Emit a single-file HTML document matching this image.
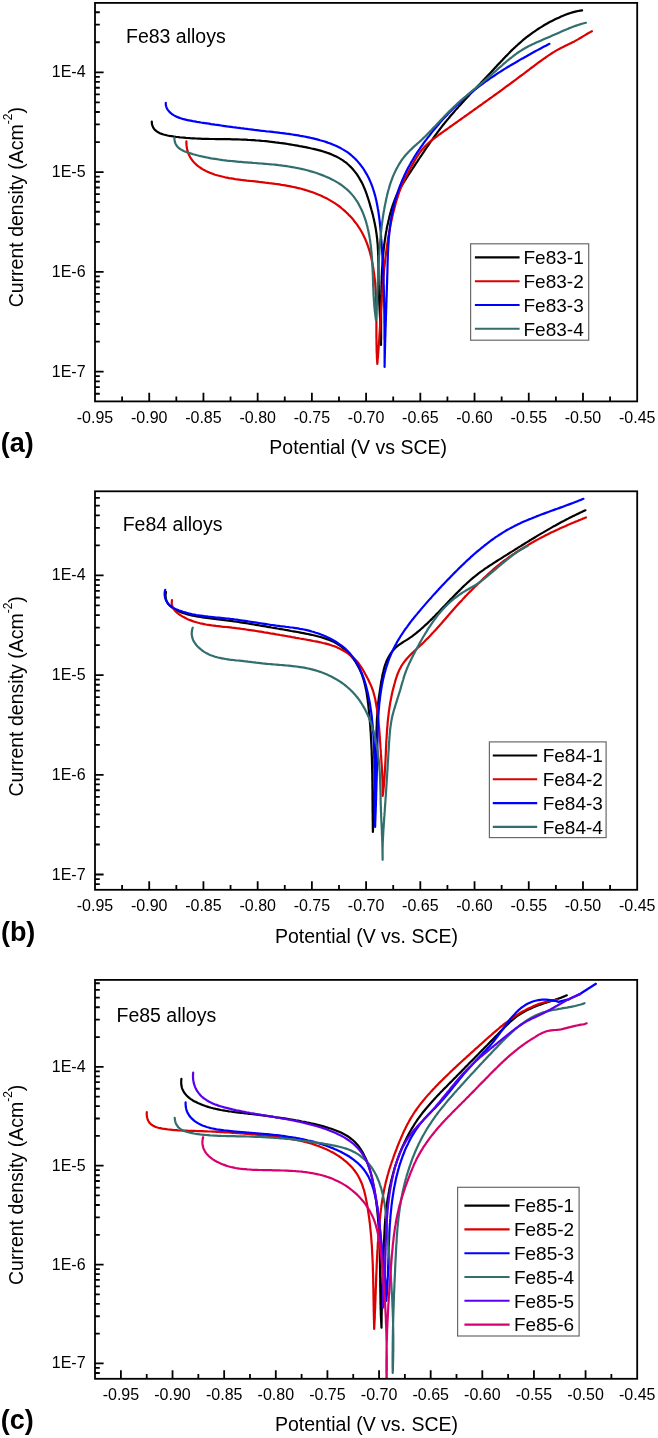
<!DOCTYPE html>
<html><head><meta charset="utf-8"><title>Polarization curves</title>
<style>html,body{margin:0;padding:0;background:#fff;}svg{display:block;}text{font-family:'Liberation Sans', Arial, sans-serif;fill:#000;}</style>
</head><body>
<svg width="658" height="1438" viewBox="0 0 658 1438">
<rect width="658" height="1438" fill="#fff"/>
<clipPath id='ca'><rect x='95.0' y='2.9' width='542.2' height='398.5'/></clipPath>
<path d='M95.0,72.30h8.6M95.0,42.27h4.8M95.0,24.70h4.8M95.0,12.23h4.8M95.0,172.07h8.6M95.0,142.04h4.8M95.0,124.47h4.8M95.0,112.00h4.8M95.0,102.33h4.8M95.0,94.43h4.8M95.0,87.75h4.8M95.0,81.97h4.8M95.0,76.87h4.8M95.0,271.84h8.6M95.0,241.81h4.8M95.0,224.24h4.8M95.0,211.77h4.8M95.0,202.10h4.8M95.0,194.20h4.8M95.0,187.52h4.8M95.0,181.74h4.8M95.0,176.64h4.8M95.0,371.61h8.6M95.0,341.58h4.8M95.0,324.01h4.8M95.0,311.54h4.8M95.0,301.87h4.8M95.0,293.97h4.8M95.0,287.29h4.8M95.0,281.51h4.8M95.0,276.41h4.8M95.0,393.74h4.8M95.0,387.06h4.8M95.0,381.28h4.8M95.0,376.18h4.8M122.11,401.4v-4.8M149.22,401.4v-8.6M176.33,401.4v-4.8M203.44,401.4v-8.6M230.55,401.4v-4.8M257.66,401.4v-8.6M284.77,401.4v-4.8M311.88,401.4v-8.6M338.99,401.4v-4.8M366.10,401.4v-8.6M393.21,401.4v-4.8M420.32,401.4v-8.6M447.43,401.4v-4.8M474.54,401.4v-8.6M501.65,401.4v-4.8M528.76,401.4v-8.6M555.87,401.4v-4.8M582.98,401.4v-8.6M610.09,401.4v-4.8' stroke='#000' stroke-width='1.8' fill='none'/>
<g clip-path='url(#ca)' fill='none' stroke-width='2.2' stroke-linejoin='round' stroke-linecap='round'>
<path d='M151.8,121.6 L151.9,123.8 L152.4,125.7 L153.1,127.4 L154.1,128.9 L155.3,130.2 L156.7,131.4 L158.2,132.3 L159.9,133.2 L161.7,133.9 L163.5,134.5 L165.5,135.0 L167.5,135.5 L169.6,135.9 L171.6,136.2 L173.7,136.5 L175.8,136.8 L177.8,137.0 L179.9,137.3 L181.9,137.5 L184.0,137.7 L186.0,137.9 L188.0,138.0 L190.1,138.2 L192.1,138.3 L194.1,138.4 L196.1,138.5 L198.1,138.6 L200.1,138.7 L202.2,138.8 L204.2,138.8 L206.2,138.9 L208.2,138.9 L210.1,139.0 L212.1,139.0 L214.1,139.0 L216.1,139.1 L218.1,139.1 L220.1,139.1 L222.1,139.1 L224.1,139.2 L226.0,139.2 L228.0,139.2 L230.0,139.2 L232.0,139.3 L234.0,139.3 L235.9,139.4 L237.9,139.4 L239.9,139.5 L241.9,139.6 L243.9,139.7 L245.8,139.7 L247.8,139.9 L249.8,140.0 L251.8,140.1 L253.8,140.2 L255.7,140.4 L257.7,140.5 L259.7,140.7 L261.7,140.9 L263.7,141.0 L265.7,141.2 L267.7,141.4 L269.6,141.7 L271.6,141.9 L273.6,142.1 L275.6,142.4 L277.6,142.6 L279.6,142.9 L281.6,143.1 L283.6,143.4 L285.6,143.7 L287.6,144.0 L289.5,144.3 L291.5,144.7 L293.5,145.0 L295.5,145.3 L297.5,145.7 L299.5,146.1 L301.5,146.4 L303.5,146.8 L305.5,147.2 L307.5,147.6 L309.5,148.0 L311.5,148.5 L313.5,148.9 L315.5,149.4 L317.5,149.9 L319.4,150.4 L321.4,150.9 L323.3,151.5 L325.2,152.1 L327.1,152.7 L329.0,153.4 L330.8,154.1 L332.7,154.9 L334.4,155.7 L336.2,156.5 L337.9,157.4 L339.6,158.4 L341.3,159.4 L342.9,160.4 L344.5,161.6 L346.1,162.7 L347.6,164.0 L349.0,165.3 L350.4,166.6 L351.8,168.0 L353.1,169.5 L354.4,171.1 L355.6,172.6 L356.8,174.2 L357.9,175.9 L359.0,177.6 L360.0,179.4 L361.0,181.1 L362.0,182.9 L362.9,184.8 L363.7,186.6 L364.5,188.5 L365.3,190.4 L366.0,192.3 L366.7,194.2 L367.3,196.2 L368.0,198.1 L368.6,200.0 L369.2,202.0 L369.8,203.9 L370.3,205.9 L370.9,207.8 L371.4,209.7 L372.0,211.7 L372.5,213.6 L373.0,215.5 L373.4,217.5 L373.9,219.4 L374.3,221.4 L374.7,223.3 L375.1,225.3 L375.5,227.2 L375.8,229.2 L376.1,231.1 L376.4,233.1 L376.7,235.1 L376.9,237.0 L377.2,239.0 L377.3,241.0 L377.5,242.9 L377.7,244.9 L377.8,246.9 L377.9,248.9 L378.0,250.9 L378.1,252.9 L378.2,254.9 L378.3,256.8 L378.3,258.8 L378.3,260.8 L378.4,262.8 L378.4,264.8 L378.4,266.8 L378.5,268.8 L378.5,270.9 L378.5,272.9 L378.5,274.9 L378.5,276.9 L378.6,278.9 L378.6,280.9 L378.6,282.9 L378.7,284.9 L378.7,286.9 L378.8,288.9 L378.8,291.0 L378.9,293.0 L379.0,295.0 L379.1,297.0 L379.2,299.0 L379.2,301.0 L379.3,303.0 L379.4,305.0 L379.5,307.1 L379.6,309.1 L379.7,311.1 L379.8,313.1 L379.9,315.1 L380.0,317.1 L380.1,319.1 L380.2,321.1 L380.3,323.1 L380.4,325.1 L380.5,327.1 L380.5,329.1 L380.6,331.1 L380.7,333.1 L380.8,335.1 L380.8,337.1 L380.9,339.1 L380.9,341.0 L381.0,343.0 L381.0,345.0 L381.0,343.0 L381.0,341.0 L381.1,339.1 L381.1,337.1 L381.1,335.1 L381.1,333.1 L381.1,331.1 L381.1,329.1 L381.1,327.1 L381.1,325.1 L381.1,323.1 L381.1,321.1 L381.1,319.1 L381.1,317.1 L381.1,315.1 L381.1,313.0 L381.1,311.0 L381.1,309.0 L381.1,307.0 L381.2,305.0 L381.2,302.9 L381.2,300.9 L381.2,298.9 L381.2,296.9 L381.3,294.9 L381.3,292.8 L381.3,290.8 L381.4,288.8 L381.4,286.8 L381.5,284.7 L381.5,282.7 L381.6,280.7 L381.7,278.7 L381.7,276.7 L381.8,274.6 L381.9,272.6 L382.0,270.6 L382.1,268.6 L382.3,266.6 L382.4,264.6 L382.5,262.5 L382.7,260.5 L382.8,258.5 L383.0,256.5 L383.2,254.5 L383.4,252.5 L383.6,250.5 L383.8,248.5 L384.0,246.5 L384.3,244.5 L384.5,242.6 L384.8,240.6 L385.1,238.6 L385.4,236.6 L385.7,234.7 L386.0,232.7 L386.4,230.7 L386.7,228.8 L387.1,226.8 L387.5,224.9 L388.0,222.9 L388.4,221.0 L388.9,219.0 L389.3,217.1 L389.8,215.2 L390.3,213.2 L390.9,211.3 L391.4,209.4 L392.0,207.5 L392.6,205.6 L393.3,203.7 L394.0,201.9 L394.7,200.0 L395.4,198.1 L396.2,196.3 L397.0,194.5 L397.9,192.7 L398.8,190.9 L399.8,189.1 L400.7,187.3 L401.8,185.5 L402.8,183.8 L403.9,182.1 L405.0,180.3 L406.1,178.6 L407.2,176.9 L408.3,175.2 L409.4,173.5 L410.5,171.8 L411.6,170.1 L412.7,168.5 L413.8,166.8 L414.9,165.1 L416.0,163.4 L417.1,161.8 L418.2,160.1 L419.3,158.5 L420.4,156.8 L421.6,155.2 L422.7,153.5 L423.8,151.8 L424.9,150.2 L426.0,148.5 L427.1,146.9 L428.3,145.3 L429.4,143.6 L430.5,142.0 L431.7,140.3 L432.9,138.7 L434.0,137.1 L435.2,135.4 L436.4,133.8 L437.6,132.2 L438.8,130.6 L440.0,129.0 L441.2,127.4 L442.4,125.8 L443.7,124.3 L444.9,122.7 L446.2,121.1 L447.5,119.6 L448.8,118.1 L450.0,116.5 L451.3,115.0 L452.7,113.5 L454.0,112.0 L455.3,110.4 L456.6,108.9 L458.0,107.4 L459.3,105.9 L460.7,104.4 L462.0,103.0 L463.4,101.5 L464.7,100.0 L466.1,98.5 L467.5,97.0 L468.9,95.6 L470.2,94.1 L471.6,92.6 L473.0,91.2 L474.4,89.7 L475.8,88.3 L477.2,86.8 L478.6,85.3 L479.9,83.9 L481.3,82.4 L482.7,81.0 L484.1,79.5 L485.5,78.0 L486.9,76.6 L488.3,75.1 L489.6,73.7 L491.0,72.2 L492.4,70.7 L493.7,69.3 L495.1,67.8 L496.5,66.3 L497.8,64.8 L499.2,63.4 L500.6,61.9 L502.0,60.5 L503.3,59.0 L504.7,57.6 L506.1,56.1 L507.5,54.7 L508.9,53.3 L510.3,51.8 L511.7,50.4 L513.1,49.0 L514.6,47.7 L516.0,46.3 L517.5,45.0 L519.0,43.6 L520.5,42.3 L522.0,41.0 L523.5,39.7 L525.1,38.4 L526.6,37.2 L528.2,36.0 L529.8,34.8 L531.4,33.6 L533.1,32.4 L534.7,31.3 L536.4,30.1 L538.1,29.0 L539.8,27.9 L541.5,26.9 L543.2,25.8 L544.9,24.8 L546.7,23.8 L548.4,22.8 L550.2,21.8 L552.0,20.9 L553.8,20.0 L555.6,19.1 L557.5,18.2 L559.3,17.4 L561.1,16.5 L563.0,15.8 L564.9,15.0 L566.7,14.3 L568.6,13.6 L570.5,13.0 L572.4,12.4 L574.4,11.9 L576.3,11.4 L578.2,11.0 L580.2,10.6 L582.1,10.3' stroke='#000000'/>
<path d='M186.4,141.4 L186.4,143.7 L186.6,145.9 L186.9,148.1 L187.3,150.1 L187.8,152.0 L188.5,153.9 L189.3,155.6 L190.2,157.3 L191.3,158.9 L192.4,160.5 L193.6,161.9 L194.9,163.3 L196.3,164.6 L197.7,165.8 L199.2,166.9 L200.8,168.0 L202.4,169.1 L204.1,170.0 L205.8,170.9 L207.6,171.8 L209.4,172.6 L211.3,173.3 L213.2,174.0 L215.1,174.7 L217.1,175.3 L219.0,175.8 L221.0,176.3 L223.0,176.8 L225.0,177.3 L227.0,177.7 L229.0,178.1 L231.0,178.4 L233.0,178.7 L235.0,179.1 L237.0,179.3 L239.0,179.6 L241.0,179.9 L243.0,180.1 L245.0,180.3 L247.0,180.6 L249.1,180.8 L251.1,181.0 L253.1,181.2 L255.1,181.4 L257.1,181.6 L259.1,181.9 L261.2,182.1 L263.2,182.3 L265.2,182.6 L267.3,182.8 L269.3,183.1 L271.3,183.3 L273.3,183.6 L275.4,183.9 L277.4,184.1 L279.4,184.4 L281.4,184.8 L283.4,185.1 L285.4,185.4 L287.4,185.8 L289.4,186.2 L291.4,186.6 L293.4,187.0 L295.4,187.4 L297.3,187.9 L299.3,188.3 L301.2,188.8 L303.2,189.4 L305.1,189.9 L307.0,190.5 L308.9,191.1 L310.8,191.7 L312.6,192.3 L314.5,193.0 L316.3,193.7 L318.2,194.5 L320.0,195.2 L321.8,196.0 L323.6,196.9 L325.3,197.7 L327.1,198.6 L328.8,199.6 L330.5,200.6 L332.2,201.6 L333.9,202.6 L335.5,203.7 L337.2,204.9 L338.8,206.0 L340.4,207.2 L341.9,208.5 L343.5,209.8 L345.0,211.1 L346.4,212.5 L347.9,213.9 L349.3,215.4 L350.7,216.8 L352.1,218.3 L353.4,219.9 L354.6,221.5 L355.9,223.1 L357.1,224.7 L358.2,226.4 L359.4,228.1 L360.4,229.8 L361.4,231.5 L362.4,233.3 L363.3,235.1 L364.2,236.9 L365.1,238.7 L365.8,240.5 L366.6,242.4 L367.3,244.3 L368.0,246.2 L368.6,248.1 L369.2,250.0 L369.8,251.9 L370.3,253.9 L370.8,255.8 L371.3,257.8 L371.7,259.7 L372.1,261.7 L372.5,263.7 L372.8,265.7 L373.2,267.6 L373.5,269.6 L373.8,271.6 L374.1,273.6 L374.3,275.6 L374.6,277.6 L374.8,279.6 L375.0,281.6 L375.2,283.6 L375.3,285.6 L375.5,287.6 L375.6,289.6 L375.7,291.7 L375.8,293.7 L375.9,295.7 L376.0,297.7 L376.1,299.7 L376.1,301.7 L376.2,303.8 L376.2,305.8 L376.3,307.8 L376.3,309.8 L376.3,311.8 L376.4,313.8 L376.4,315.9 L376.4,317.9 L376.4,319.9 L376.4,321.9 L376.4,323.9 L376.4,326.0 L376.4,328.0 L376.4,330.0 L376.4,332.0 L376.4,334.0 L376.4,336.0 L376.4,338.0 L376.5,340.1 L376.5,342.1 L376.5,344.1 L376.6,346.1 L376.6,348.1 L376.6,350.1 L376.7,352.1 L376.8,354.1 L376.9,356.1 L376.9,358.0 L377.1,360.0 L377.2,362.0 L377.3,364.0 L377.5,362.0 L377.6,360.0 L377.8,358.1 L378.0,356.1 L378.1,354.1 L378.3,352.1 L378.4,350.1 L378.6,348.1 L378.7,346.1 L378.9,344.1 L379.0,342.1 L379.2,340.1 L379.3,338.1 L379.4,336.1 L379.5,334.1 L379.7,332.1 L379.8,330.1 L379.9,328.1 L380.1,326.1 L380.2,324.1 L380.3,322.1 L380.4,320.0 L380.6,318.0 L380.7,316.0 L380.8,314.0 L380.9,312.0 L381.1,310.0 L381.2,308.0 L381.3,306.0 L381.4,303.9 L381.6,301.9 L381.7,299.9 L381.8,297.9 L382.0,295.9 L382.1,293.9 L382.3,291.9 L382.4,289.9 L382.6,287.8 L382.7,285.8 L382.9,283.8 L383.1,281.8 L383.2,279.8 L383.4,277.8 L383.6,275.8 L383.8,273.8 L383.9,271.8 L384.1,269.8 L384.3,267.8 L384.6,265.8 L384.8,263.8 L385.0,261.8 L385.2,259.8 L385.4,257.8 L385.7,255.8 L385.9,253.8 L386.2,251.8 L386.5,249.8 L386.7,247.8 L387.0,245.8 L387.3,243.8 L387.6,241.9 L387.9,239.9 L388.2,237.9 L388.5,235.9 L388.9,234.0 L389.2,232.0 L389.6,230.0 L390.0,228.1 L390.3,226.1 L390.7,224.1 L391.1,222.2 L391.5,220.2 L392.0,218.3 L392.4,216.3 L392.8,214.4 L393.3,212.5 L393.8,210.5 L394.3,208.6 L394.8,206.7 L395.3,204.7 L395.8,202.8 L396.4,200.9 L397.0,199.0 L397.6,197.1 L398.2,195.2 L398.8,193.3 L399.5,191.4 L400.2,189.5 L401.0,187.6 L401.7,185.8 L402.6,183.9 L403.4,182.0 L404.3,180.2 L405.1,178.3 L406.0,176.5 L407.0,174.7 L407.9,172.9 L408.9,171.1 L409.8,169.3 L410.8,167.5 L411.8,165.7 L412.8,163.9 L413.8,162.1 L414.8,160.4 L415.8,158.7 L416.9,157.0 L418.0,155.3 L419.1,153.7 L420.2,152.1 L421.4,150.5 L422.7,149.0 L424.0,147.5 L425.3,146.1 L426.7,144.7 L428.2,143.3 L429.6,142.0 L431.2,140.7 L432.7,139.5 L434.3,138.3 L435.9,137.1 L437.5,135.9 L439.1,134.7 L440.8,133.5 L442.4,132.4 L444.1,131.2 L445.7,130.0 L447.4,128.8 L449.0,127.7 L450.6,126.5 L452.3,125.3 L453.9,124.2 L455.6,123.0 L457.2,121.8 L458.8,120.7 L460.5,119.5 L462.1,118.3 L463.8,117.2 L465.4,116.0 L467.1,114.8 L468.7,113.7 L470.3,112.5 L472.0,111.3 L473.6,110.2 L475.2,109.0 L476.9,107.9 L478.5,106.7 L480.2,105.5 L481.8,104.4 L483.4,103.2 L485.0,102.0 L486.7,100.8 L488.3,99.7 L489.9,98.5 L491.6,97.3 L493.2,96.2 L494.8,95.0 L496.4,93.8 L498.1,92.6 L499.7,91.5 L501.3,90.3 L502.9,89.1 L504.5,87.9 L506.1,86.7 L507.8,85.5 L509.4,84.4 L511.0,83.2 L512.6,82.0 L514.2,80.8 L515.8,79.6 L517.4,78.4 L519.0,77.2 L520.6,76.0 L522.2,74.8 L523.9,73.6 L525.5,72.4 L527.1,71.2 L528.7,70.0 L530.3,68.7 L531.9,67.5 L533.5,66.3 L535.1,65.1 L536.7,63.9 L538.3,62.7 L540.0,61.5 L541.6,60.3 L543.2,59.1 L544.9,58.0 L546.5,56.8 L548.2,55.7 L549.8,54.6 L551.5,53.5 L553.2,52.4 L554.9,51.4 L556.6,50.4 L558.3,49.4 L560.1,48.5 L561.9,47.6 L563.6,46.7 L565.4,45.8 L567.2,44.9 L569.0,44.1 L570.8,43.2 L572.6,42.3 L574.4,41.4 L576.2,40.4 L578.0,39.4 L579.8,38.3 L581.6,37.2 L583.4,36.1 L585.1,35.1 L586.9,34.0 L588.6,33.0 L590.2,32.1 L591.9,31.2' stroke='#dc0000'/>
<path d='M165.8,102.8 L165.8,104.9 L166.3,106.8 L167.0,108.6 L168.0,110.1 L169.2,111.6 L170.6,112.9 L172.0,114.1 L173.6,115.1 L175.3,116.1 L177.0,116.9 L178.8,117.6 L180.7,118.3 L182.6,118.9 L184.6,119.4 L186.6,119.9 L188.6,120.3 L190.7,120.7 L192.7,121.1 L194.8,121.4 L196.8,121.8 L198.9,122.1 L200.9,122.5 L203.0,122.8 L205.0,123.1 L207.0,123.4 L209.0,123.7 L211.0,124.1 L213.0,124.4 L215.0,124.7 L217.0,124.9 L219.0,125.2 L221.0,125.5 L223.0,125.8 L225.0,126.1 L226.9,126.4 L228.9,126.6 L230.9,126.9 L232.8,127.2 L234.8,127.4 L236.8,127.7 L238.7,127.9 L240.7,128.2 L242.7,128.4 L244.6,128.7 L246.6,128.9 L248.5,129.2 L250.5,129.4 L252.5,129.6 L254.4,129.9 L256.4,130.1 L258.4,130.3 L260.4,130.6 L262.3,130.8 L264.3,131.0 L266.3,131.3 L268.3,131.5 L270.3,131.7 L272.3,131.9 L274.3,132.2 L276.3,132.4 L278.3,132.6 L280.3,132.9 L282.3,133.1 L284.3,133.4 L286.3,133.7 L288.3,133.9 L290.3,134.2 L292.3,134.5 L294.3,134.8 L296.3,135.1 L298.3,135.4 L300.3,135.8 L302.2,136.1 L304.2,136.5 L306.2,136.9 L308.2,137.3 L310.2,137.7 L312.1,138.2 L314.1,138.6 L316.1,139.1 L318.0,139.6 L320.0,140.2 L321.9,140.7 L323.9,141.3 L325.8,141.9 L327.7,142.6 L329.6,143.2 L331.5,143.9 L333.3,144.7 L335.2,145.5 L337.0,146.3 L338.8,147.2 L340.6,148.1 L342.3,149.1 L344.1,150.1 L345.7,151.1 L347.4,152.2 L349.0,153.4 L350.6,154.7 L352.1,156.0 L353.6,157.3 L355.1,158.7 L356.5,160.1 L357.8,161.6 L359.1,163.1 L360.4,164.7 L361.6,166.3 L362.8,167.9 L363.9,169.5 L364.9,171.2 L365.9,172.9 L366.9,174.6 L367.8,176.3 L368.7,178.0 L369.5,179.8 L370.3,181.6 L371.1,183.4 L371.8,185.3 L372.5,187.1 L373.1,189.0 L373.7,190.9 L374.3,192.8 L374.8,194.7 L375.4,196.6 L375.8,198.6 L376.3,200.5 L376.7,202.5 L377.1,204.5 L377.5,206.5 L377.8,208.5 L378.2,210.5 L378.5,212.5 L378.8,214.5 L379.1,216.5 L379.3,218.6 L379.6,220.6 L379.8,222.6 L380.0,224.7 L380.2,226.7 L380.4,228.7 L380.6,230.8 L380.8,232.8 L380.9,234.8 L381.1,236.9 L381.2,238.9 L381.4,240.9 L381.6,242.9 L381.7,245.0 L381.8,247.0 L382.0,249.0 L382.1,251.0 L382.2,253.0 L382.3,255.0 L382.5,257.0 L382.6,259.0 L382.7,261.0 L382.8,263.0 L382.9,265.0 L383.0,267.0 L383.1,269.0 L383.2,271.0 L383.3,273.0 L383.3,274.9 L383.4,276.9 L383.5,278.9 L383.6,280.9 L383.6,282.9 L383.7,284.9 L383.8,286.8 L383.8,288.8 L383.9,290.8 L383.9,292.8 L384.0,294.8 L384.0,296.7 L384.1,298.7 L384.1,300.7 L384.2,302.7 L384.2,304.7 L384.2,306.7 L384.3,308.6 L384.3,310.6 L384.3,312.6 L384.4,314.6 L384.4,316.6 L384.4,318.6 L384.4,320.6 L384.4,322.6 L384.5,324.6 L384.5,326.5 L384.5,328.5 L384.5,330.5 L384.5,332.5 L384.5,334.5 L384.5,336.6 L384.5,338.6 L384.6,340.6 L384.6,342.6 L384.6,344.6 L384.6,346.6 L384.6,348.6 L384.6,350.7 L384.6,352.7 L384.6,354.7 L384.6,356.8 L384.6,358.8 L384.6,360.8 L384.6,362.9 L384.6,364.9 L384.6,367.0 L384.6,365.0 L384.7,363.1 L384.7,361.1 L384.7,359.1 L384.8,357.1 L384.8,355.1 L384.9,353.2 L384.9,351.2 L385.0,349.2 L385.0,347.2 L385.1,345.2 L385.1,343.2 L385.2,341.2 L385.2,339.2 L385.3,337.2 L385.4,335.2 L385.4,333.2 L385.5,331.2 L385.5,329.1 L385.6,327.1 L385.7,325.1 L385.7,323.1 L385.8,321.1 L385.9,319.1 L385.9,317.0 L386.0,315.0 L386.1,313.0 L386.1,311.0 L386.2,309.0 L386.3,306.9 L386.3,304.9 L386.4,302.9 L386.5,300.8 L386.5,298.8 L386.6,296.8 L386.7,294.8 L386.7,292.7 L386.8,290.7 L386.9,288.7 L386.9,286.7 L387.0,284.6 L387.1,282.6 L387.1,280.6 L387.2,278.6 L387.2,276.5 L387.3,274.5 L387.4,272.5 L387.4,270.5 L387.5,268.4 L387.5,266.4 L387.6,264.4 L387.6,262.4 L387.7,260.4 L387.8,258.4 L387.8,256.3 L387.9,254.3 L388.0,252.3 L388.1,250.3 L388.2,248.3 L388.3,246.3 L388.4,244.3 L388.6,242.3 L388.7,240.3 L388.8,238.3 L389.0,236.3 L389.2,234.3 L389.4,232.4 L389.6,230.4 L389.8,228.4 L390.1,226.4 L390.3,224.4 L390.6,222.5 L390.9,220.5 L391.2,218.5 L391.5,216.6 L391.9,214.6 L392.3,212.7 L392.7,210.7 L393.1,208.8 L393.5,206.8 L394.0,204.9 L394.5,203.0 L395.0,201.0 L395.6,199.1 L396.1,197.2 L396.7,195.3 L397.3,193.4 L398.0,191.5 L398.6,189.6 L399.3,187.7 L400.0,185.8 L400.8,184.0 L401.5,182.1 L402.3,180.2 L403.1,178.4 L403.9,176.6 L404.7,174.7 L405.6,172.9 L406.5,171.1 L407.4,169.3 L408.3,167.5 L409.3,165.8 L410.3,164.0 L411.2,162.2 L412.3,160.5 L413.3,158.8 L414.3,157.0 L415.4,155.3 L416.5,153.6 L417.6,151.9 L418.7,150.3 L419.9,148.6 L421.0,146.9 L422.2,145.3 L423.3,143.6 L424.5,142.0 L425.7,140.4 L426.9,138.8 L428.1,137.2 L429.4,135.6 L430.6,134.0 L431.8,132.4 L433.1,130.8 L434.4,129.3 L435.7,127.7 L437.0,126.2 L438.3,124.7 L439.6,123.1 L440.9,121.6 L442.2,120.1 L443.6,118.6 L444.9,117.2 L446.3,115.7 L447.7,114.2 L449.1,112.8 L450.4,111.4 L451.9,109.9 L453.3,108.5 L454.7,107.1 L456.2,105.8 L457.6,104.4 L459.1,103.0 L460.5,101.7 L462.0,100.3 L463.5,99.0 L465.0,97.7 L466.5,96.4 L468.1,95.1 L469.6,93.8 L471.2,92.5 L472.7,91.3 L474.3,90.0 L475.9,88.8 L477.5,87.6 L479.1,86.4 L480.7,85.2 L482.3,84.0 L483.9,82.8 L485.5,81.6 L487.2,80.5 L488.8,79.3 L490.5,78.2 L492.1,77.1 L493.8,76.0 L495.5,74.8 L497.2,73.7 L498.8,72.6 L500.5,71.6 L502.2,70.5 L503.9,69.4 L505.6,68.4 L507.4,67.3 L509.1,66.3 L510.8,65.2 L512.5,64.2 L514.3,63.2 L516.0,62.2 L517.7,61.2 L519.5,60.1 L521.2,59.1 L523.0,58.2 L524.7,57.2 L526.5,56.2 L528.2,55.2 L530.0,54.2 L531.7,53.3 L533.5,52.3 L535.3,51.3 L537.0,50.4 L538.8,49.4 L540.6,48.5 L542.3,47.5 L544.1,46.6 L545.9,45.7 L547.6,44.7 L549.4,43.8' stroke='#0000ff'/>
<path d='M174.4,137.6 L174.5,139.9 L174.9,141.9 L175.5,143.7 L176.4,145.3 L177.5,146.7 L178.8,148.0 L180.3,149.1 L181.9,150.0 L183.7,150.9 L185.5,151.7 L187.4,152.4 L189.3,153.0 L191.3,153.6 L193.2,154.2 L195.2,154.7 L197.1,155.3 L199.1,155.8 L201.1,156.2 L203.0,156.7 L205.0,157.1 L207.0,157.5 L209.0,157.9 L211.0,158.3 L212.9,158.6 L214.9,158.9 L216.9,159.2 L218.9,159.5 L220.9,159.8 L222.9,160.1 L224.9,160.3 L226.9,160.6 L228.9,160.8 L230.9,161.0 L232.9,161.2 L234.9,161.4 L236.9,161.6 L238.9,161.8 L240.9,161.9 L242.9,162.1 L244.9,162.3 L246.9,162.4 L248.9,162.6 L250.9,162.7 L252.9,162.9 L254.9,163.0 L256.9,163.2 L258.9,163.3 L260.9,163.5 L262.9,163.6 L264.9,163.8 L266.9,164.0 L268.9,164.2 L270.8,164.3 L272.8,164.5 L274.8,164.7 L276.8,164.9 L278.8,165.2 L280.7,165.4 L282.7,165.7 L284.7,165.9 L286.6,166.2 L288.6,166.5 L290.6,166.8 L292.5,167.1 L294.5,167.5 L296.4,167.9 L298.4,168.2 L300.3,168.7 L302.3,169.1 L304.2,169.5 L306.2,170.0 L308.1,170.5 L310.0,171.1 L312.0,171.6 L313.9,172.2 L315.8,172.8 L317.8,173.5 L319.7,174.2 L321.6,174.9 L323.5,175.6 L325.4,176.4 L327.3,177.2 L329.2,178.1 L331.0,179.0 L332.9,179.9 L334.7,180.9 L336.4,181.9 L338.2,182.9 L339.9,184.0 L341.6,185.2 L343.2,186.3 L344.7,187.6 L346.3,188.8 L347.7,190.1 L349.2,191.5 L350.5,192.9 L351.8,194.4 L353.1,195.9 L354.3,197.4 L355.4,199.0 L356.5,200.6 L357.6,202.2 L358.6,203.9 L359.5,205.7 L360.4,207.4 L361.3,209.2 L362.1,211.0 L362.9,212.8 L363.6,214.7 L364.3,216.6 L365.0,218.5 L365.6,220.4 L366.2,222.3 L366.7,224.3 L367.3,226.2 L367.7,228.2 L368.2,230.2 L368.6,232.2 L369.0,234.2 L369.4,236.2 L369.7,238.2 L370.1,240.2 L370.3,242.3 L370.6,244.3 L370.9,246.3 L371.1,248.3 L371.3,250.3 L371.5,252.3 L371.7,254.3 L371.8,256.3 L372.0,258.3 L372.1,260.3 L372.2,262.3 L372.3,264.3 L372.4,266.2 L372.5,268.2 L372.6,270.2 L372.7,272.2 L372.8,274.2 L372.9,276.1 L372.9,278.1 L373.0,280.1 L373.1,282.1 L373.1,284.0 L373.2,286.0 L373.3,288.0 L373.4,290.0 L373.5,292.0 L373.5,293.9 L373.6,295.9 L373.8,297.9 L373.9,299.9 L374.0,301.9 L374.2,303.9 L374.3,305.9 L374.5,307.9 L374.7,309.9 L374.9,311.9 L375.2,313.9 L375.4,315.9 L375.7,318.0 L376.0,320.0 L376.1,318.0 L376.2,316.0 L376.4,314.0 L376.5,312.0 L376.6,310.1 L376.7,308.1 L376.8,306.1 L376.9,304.1 L377.0,302.1 L377.0,300.1 L377.1,298.1 L377.2,296.1 L377.3,294.1 L377.4,292.0 L377.5,290.0 L377.6,288.0 L377.7,286.0 L377.7,284.0 L377.8,282.0 L377.9,280.0 L378.0,278.0 L378.1,276.0 L378.2,274.0 L378.3,271.9 L378.4,269.9 L378.5,267.9 L378.6,265.9 L378.7,263.9 L378.8,261.9 L378.9,259.9 L379.0,257.9 L379.1,255.9 L379.3,253.9 L379.4,251.8 L379.5,249.8 L379.7,247.8 L379.8,245.8 L380.0,243.8 L380.1,241.8 L380.3,239.8 L380.5,237.8 L380.7,235.8 L380.9,233.8 L381.1,231.8 L381.3,229.8 L381.5,227.8 L381.7,225.9 L382.0,223.9 L382.2,221.9 L382.5,219.9 L382.8,217.9 L383.1,215.9 L383.4,214.0 L383.7,212.0 L384.1,210.0 L384.4,208.0 L384.8,206.1 L385.2,204.1 L385.6,202.2 L386.0,200.2 L386.4,198.2 L386.9,196.3 L387.3,194.3 L387.8,192.4 L388.3,190.5 L388.9,188.5 L389.4,186.6 L390.0,184.7 L390.6,182.8 L391.3,180.9 L392.0,179.1 L392.7,177.2 L393.4,175.4 L394.2,173.6 L395.1,171.8 L395.9,170.0 L396.8,168.2 L397.8,166.5 L398.8,164.7 L399.8,163.1 L400.9,161.4 L402.0,159.7 L403.2,158.1 L404.5,156.5 L405.7,155.0 L407.1,153.5 L408.5,152.0 L409.9,150.5 L411.4,149.1 L412.9,147.6 L414.5,146.2 L416.0,144.9 L417.5,143.5 L419.1,142.2 L420.5,140.8 L422.0,139.5 L423.4,138.1 L424.8,136.8 L426.1,135.5 L427.5,134.1 L428.8,132.7 L430.1,131.4 L431.5,130.0 L432.8,128.6 L434.2,127.1 L435.6,125.7 L436.9,124.2 L438.3,122.7 L439.7,121.3 L441.1,119.8 L442.6,118.3 L444.0,116.8 L445.4,115.3 L446.9,113.8 L448.3,112.4 L449.8,110.9 L451.2,109.5 L452.7,108.0 L454.2,106.6 L455.7,105.2 L457.1,103.9 L458.6,102.5 L460.1,101.2 L461.6,99.9 L463.1,98.6 L464.6,97.3 L466.2,96.0 L467.7,94.7 L469.2,93.4 L470.7,92.2 L472.2,90.9 L473.7,89.6 L475.3,88.4 L476.8,87.1 L478.3,85.9 L479.8,84.6 L481.3,83.3 L482.8,82.1 L484.4,80.8 L485.9,79.5 L487.4,78.2 L488.9,76.9 L490.4,75.6 L491.9,74.3 L493.4,72.9 L494.9,71.6 L496.4,70.3 L497.9,68.9 L499.4,67.6 L500.9,66.3 L502.4,65.0 L503.9,63.6 L505.5,62.3 L507.0,61.0 L508.5,59.8 L510.1,58.5 L511.7,57.3 L513.3,56.0 L514.9,54.8 L516.5,53.7 L518.1,52.5 L519.8,51.4 L521.5,50.3 L523.2,49.3 L524.9,48.3 L526.7,47.3 L528.5,46.3 L530.2,45.4 L532.0,44.5 L533.9,43.7 L535.7,42.8 L537.5,42.0 L539.4,41.2 L541.2,40.4 L543.1,39.6 L544.9,38.8 L546.8,38.0 L548.6,37.2 L550.5,36.4 L552.3,35.6 L554.2,34.8 L556.0,34.0 L557.8,33.2 L559.6,32.4 L561.4,31.6 L563.2,30.8 L565.1,30.0 L566.9,29.2 L568.7,28.4 L570.6,27.7 L572.4,27.0 L574.3,26.3 L576.2,25.6 L578.1,25.0 L580.0,24.4 L581.9,23.8 L583.9,23.3 L585.9,22.8' stroke='#326e6e'/>
</g>
<rect x='95.0' y='2.9' width='542.2' height='398.5' fill='none' stroke='#000' stroke-width='1.8'/>
<text x='85.6' y='77.3' font-size='16' text-anchor='end'>1E-4</text>
<text x='85.6' y='177.1' font-size='16' text-anchor='end'>1E-5</text>
<text x='85.6' y='276.8' font-size='16' text-anchor='end'>1E-6</text>
<text x='85.6' y='376.6' font-size='16' text-anchor='end'>1E-7</text>
<text x='95.0' y='422.6' font-size='16' text-anchor='middle'>-0.95</text>
<text x='149.2' y='422.6' font-size='16' text-anchor='middle'>-0.90</text>
<text x='203.4' y='422.6' font-size='16' text-anchor='middle'>-0.85</text>
<text x='257.7' y='422.6' font-size='16' text-anchor='middle'>-0.80</text>
<text x='311.9' y='422.6' font-size='16' text-anchor='middle'>-0.75</text>
<text x='366.1' y='422.6' font-size='16' text-anchor='middle'>-0.70</text>
<text x='420.3' y='422.6' font-size='16' text-anchor='middle'>-0.65</text>
<text x='474.5' y='422.6' font-size='16' text-anchor='middle'>-0.60</text>
<text x='528.8' y='422.6' font-size='16' text-anchor='middle'>-0.55</text>
<text x='583.0' y='422.6' font-size='16' text-anchor='middle'>-0.50</text>
<text x='637.2' y='422.6' font-size='16' text-anchor='middle'>-0.45</text>
<text x='269.3' y='454.4' font-size='19.5' text-anchor='start'>Potential (V vs SCE)</text>
<text transform='translate(22.6,307.3) rotate(-90)' font-size='19.5'>Current density (Acm<tspan font-size='12' dy='-10.5'>-2</tspan><tspan dy='10.5'>)</tspan></text>
<text x='126.0' y='42.7' font-size='19.5' text-anchor='start'>Fe83 alloys</text>
<text x='0.8' y='451.6' font-size='27' text-anchor='start' font-weight='bold'>(a)</text>
<rect x='470.6' y='243.8' width='118.1' height='96.4' fill='#fff' stroke='#6a6a6a' stroke-width='1.2'/>
<path d='M474.9,257.4H519.6' stroke='#000000' stroke-width='2.1'/>
<text x='523.5' y='264.2' font-size='19' text-anchor='start'>Fe83-1</text>
<path d='M474.9,281.2H519.6' stroke='#dc0000' stroke-width='2.1'/>
<text x='523.5' y='288.0' font-size='19' text-anchor='start'>Fe83-2</text>
<path d='M474.9,305.0H519.6' stroke='#0000ff' stroke-width='2.1'/>
<text x='523.5' y='311.8' font-size='19' text-anchor='start'>Fe83-3</text>
<path d='M474.9,328.8H519.6' stroke='#326e6e' stroke-width='2.1'/>
<text x='523.5' y='335.6' font-size='19' text-anchor='start'>Fe83-4</text>
<clipPath id='cb'><rect x='95.0' y='491.3' width='542.2' height='398.5'/></clipPath>
<path d='M95.0,575.40h8.6M95.0,545.39h4.8M95.0,527.83h4.8M95.0,515.37h4.8M95.0,505.71h4.8M95.0,497.82h4.8M95.0,675.10h8.6M95.0,645.09h4.8M95.0,627.53h4.8M95.0,615.07h4.8M95.0,605.41h4.8M95.0,597.52h4.8M95.0,590.84h4.8M95.0,585.06h4.8M95.0,579.96h4.8M95.0,774.80h8.6M95.0,744.79h4.8M95.0,727.23h4.8M95.0,714.77h4.8M95.0,705.11h4.8M95.0,697.22h4.8M95.0,690.54h4.8M95.0,684.76h4.8M95.0,679.66h4.8M95.0,874.50h8.6M95.0,844.49h4.8M95.0,826.93h4.8M95.0,814.47h4.8M95.0,804.81h4.8M95.0,796.92h4.8M95.0,790.24h4.8M95.0,784.46h4.8M95.0,779.36h4.8M95.0,884.16h4.8M95.0,879.06h4.8M122.11,889.8v-4.8M149.22,889.8v-8.6M176.33,889.8v-4.8M203.44,889.8v-8.6M230.55,889.8v-4.8M257.66,889.8v-8.6M284.77,889.8v-4.8M311.88,889.8v-8.6M338.99,889.8v-4.8M366.10,889.8v-8.6M393.21,889.8v-4.8M420.32,889.8v-8.6M447.43,889.8v-4.8M474.54,889.8v-8.6M501.65,889.8v-4.8M528.76,889.8v-8.6M555.87,889.8v-4.8M582.98,889.8v-8.6M610.09,889.8v-4.8' stroke='#000' stroke-width='1.8' fill='none'/>
<g clip-path='url(#cb)' fill='none' stroke-width='2.2' stroke-linejoin='round' stroke-linecap='round'>
<path d='M166.0,592.0 L165.6,594.4 L165.6,596.6 L165.8,598.6 L166.4,600.4 L167.1,602.2 L168.1,603.7 L169.3,605.1 L170.7,606.4 L172.2,607.6 L173.8,608.7 L175.5,609.7 L177.3,610.6 L179.1,611.4 L181.0,612.2 L182.9,612.9 L184.8,613.5 L186.7,614.1 L188.7,614.6 L190.6,615.1 L192.6,615.6 L194.6,616.0 L196.5,616.4 L198.5,616.7 L200.5,617.0 L202.6,617.3 L204.6,617.6 L206.6,617.9 L208.6,618.1 L210.6,618.3 L212.6,618.6 L214.6,618.8 L216.6,619.1 L218.6,619.3 L220.6,619.6 L222.6,619.8 L224.6,620.1 L226.6,620.4 L228.6,620.6 L230.5,620.9 L232.5,621.2 L234.4,621.5 L236.4,621.7 L238.4,622.0 L240.3,622.3 L242.3,622.6 L244.2,622.9 L246.2,623.2 L248.1,623.5 L250.0,623.8 L252.0,624.2 L253.9,624.5 L255.9,624.8 L257.8,625.1 L259.8,625.5 L261.7,625.8 L263.7,626.1 L265.6,626.4 L267.6,626.8 L269.5,627.1 L271.5,627.5 L273.5,627.8 L275.4,628.1 L277.4,628.5 L279.4,628.8 L281.4,629.2 L283.4,629.5 L285.3,629.9 L287.3,630.2 L289.4,630.6 L291.4,631.0 L293.4,631.3 L295.4,631.7 L297.4,632.0 L299.4,632.4 L301.5,632.8 L303.5,633.2 L305.5,633.6 L307.5,634.0 L309.5,634.4 L311.5,634.8 L313.5,635.3 L315.5,635.8 L317.4,636.3 L319.3,636.8 L321.3,637.3 L323.2,637.9 L325.0,638.5 L326.9,639.1 L328.7,639.8 L330.5,640.5 L332.3,641.3 L334.1,642.1 L335.8,643.1 L337.5,644.0 L339.1,645.1 L340.7,646.2 L342.3,647.4 L343.8,648.6 L345.3,650.0 L346.8,651.3 L348.2,652.7 L349.5,654.2 L350.9,655.7 L352.1,657.3 L353.4,658.9 L354.5,660.5 L355.7,662.2 L356.7,663.9 L357.7,665.6 L358.7,667.4 L359.6,669.2 L360.4,671.0 L361.2,672.8 L361.9,674.7 L362.6,676.6 L363.2,678.5 L363.8,680.4 L364.3,682.3 L364.8,684.2 L365.3,686.2 L365.7,688.2 L366.1,690.1 L366.5,692.1 L366.8,694.1 L367.1,696.1 L367.4,698.1 L367.7,700.1 L367.9,702.1 L368.2,704.1 L368.4,706.1 L368.6,708.1 L368.8,710.1 L369.0,712.1 L369.2,714.1 L369.4,716.1 L369.6,718.1 L369.8,720.1 L369.9,722.1 L370.1,724.1 L370.3,726.1 L370.4,728.1 L370.5,730.1 L370.7,732.1 L370.8,734.1 L370.9,736.1 L371.0,738.1 L371.1,740.1 L371.2,742.0 L371.3,744.0 L371.4,746.0 L371.5,748.0 L371.6,750.0 L371.7,752.0 L371.7,754.0 L371.8,756.0 L371.9,758.0 L371.9,760.0 L372.0,762.0 L372.0,764.0 L372.1,766.0 L372.1,768.0 L372.2,770.0 L372.2,772.0 L372.3,774.0 L372.3,775.9 L372.3,777.9 L372.3,779.9 L372.4,781.9 L372.4,783.9 L372.4,785.9 L372.4,787.9 L372.5,789.9 L372.5,791.9 L372.5,793.9 L372.5,795.9 L372.5,797.9 L372.5,799.9 L372.6,801.9 L372.6,803.9 L372.6,805.9 L372.6,807.9 L372.6,809.9 L372.6,811.9 L372.7,813.9 L372.7,815.9 L372.7,817.9 L372.7,819.9 L372.8,822.0 L372.8,824.0 L372.8,826.0 L372.8,828.0 L372.9,830.0 L372.9,832.0 L373.0,830.0 L373.1,828.0 L373.2,825.9 L373.3,823.9 L373.4,821.9 L373.5,819.9 L373.6,817.9 L373.7,815.9 L373.8,813.9 L373.9,811.9 L374.0,809.9 L374.1,807.9 L374.2,805.9 L374.3,803.9 L374.4,801.9 L374.5,799.9 L374.5,797.9 L374.6,795.9 L374.7,793.9 L374.8,791.9 L374.9,789.9 L375.0,787.9 L375.1,785.9 L375.1,783.9 L375.2,781.9 L375.3,780.0 L375.4,778.0 L375.4,776.0 L375.5,774.0 L375.6,772.0 L375.6,770.0 L375.7,768.0 L375.7,766.0 L375.8,764.0 L375.8,762.1 L375.9,760.1 L375.9,758.1 L376.0,756.1 L376.0,754.1 L376.1,752.1 L376.1,750.1 L376.2,748.1 L376.2,746.1 L376.2,744.1 L376.3,742.1 L376.3,740.1 L376.3,738.1 L376.4,736.1 L376.4,734.1 L376.5,732.1 L376.5,730.1 L376.6,728.1 L376.7,726.1 L376.8,724.1 L376.8,722.1 L376.9,720.1 L377.0,718.1 L377.2,716.1 L377.3,714.1 L377.4,712.1 L377.6,710.0 L377.8,708.0 L377.9,706.0 L378.1,704.0 L378.4,702.0 L378.6,699.9 L378.8,697.9 L379.1,695.9 L379.4,693.9 L379.7,691.8 L380.0,689.8 L380.3,687.8 L380.6,685.8 L380.9,683.8 L381.3,681.8 L381.6,679.9 L382.0,677.9 L382.3,676.0 L382.7,674.0 L383.2,672.1 L383.6,670.2 L384.1,668.3 L384.6,666.5 L385.2,664.6 L385.9,662.8 L386.6,661.0 L387.4,659.2 L388.3,657.5 L389.3,655.8 L390.3,654.1 L391.5,652.4 L392.7,650.8 L394.1,649.2 L395.5,647.8 L397.0,646.4 L398.6,645.2 L400.1,644.1 L401.8,643.0 L403.4,641.9 L405.1,640.9 L406.8,639.9 L408.4,638.8 L410.1,637.7 L411.7,636.6 L413.3,635.4 L414.9,634.2 L416.5,632.9 L418.0,631.6 L419.6,630.3 L421.1,629.0 L422.6,627.7 L424.1,626.3 L425.6,624.9 L427.1,623.6 L428.5,622.2 L430.0,620.8 L431.4,619.4 L432.8,617.9 L434.3,616.5 L435.7,615.1 L437.1,613.6 L438.5,612.2 L439.9,610.7 L441.2,609.3 L442.6,607.8 L444.0,606.4 L445.4,604.9 L446.8,603.5 L448.1,602.0 L449.5,600.6 L450.9,599.1 L452.3,597.7 L453.7,596.2 L455.1,594.8 L456.5,593.4 L457.9,592.0 L459.3,590.6 L460.7,589.2 L462.1,587.8 L463.5,586.4 L465.0,585.0 L466.4,583.7 L467.9,582.3 L469.4,581.0 L470.9,579.7 L472.4,578.4 L473.9,577.1 L475.5,575.9 L477.1,574.6 L478.6,573.4 L480.2,572.2 L481.8,571.1 L483.5,569.9 L485.1,568.7 L486.8,567.6 L488.4,566.5 L490.1,565.4 L491.8,564.3 L493.5,563.2 L495.2,562.1 L496.9,561.0 L498.6,559.9 L500.3,558.9 L502.0,557.8 L503.7,556.7 L505.4,555.6 L507.1,554.6 L508.8,553.5 L510.5,552.4 L512.2,551.4 L513.9,550.3 L515.6,549.2 L517.3,548.2 L519.0,547.1 L520.7,546.1 L522.4,545.0 L524.1,544.0 L525.8,542.9 L527.5,541.9 L529.2,540.8 L530.9,539.8 L532.6,538.7 L534.3,537.7 L536.0,536.7 L537.7,535.6 L539.4,534.6 L541.1,533.6 L542.9,532.6 L544.6,531.6 L546.3,530.6 L548.0,529.6 L549.8,528.6 L551.5,527.6 L553.2,526.6 L555.0,525.7 L556.7,524.7 L558.5,523.7 L560.2,522.8 L562.0,521.8 L563.8,520.9 L565.5,520.0 L567.3,519.1 L569.1,518.1 L570.9,517.2 L572.7,516.3 L574.5,515.4 L576.3,514.6 L578.1,513.7 L579.9,512.8 L581.7,512.0 L583.6,511.1 L585.4,510.3' stroke='#000000'/>
<path d='M172.0,600.1 L171.7,602.4 L171.9,604.4 L172.4,606.4 L173.2,608.1 L174.2,609.7 L175.5,611.2 L176.9,612.6 L178.5,613.8 L180.2,615.0 L181.9,616.1 L183.6,617.1 L185.4,618.0 L187.1,618.9 L188.9,619.7 L190.8,620.4 L192.6,621.1 L194.5,621.7 L196.4,622.3 L198.2,622.8 L200.2,623.3 L202.1,623.7 L204.0,624.1 L206.0,624.5 L207.9,624.8 L209.9,625.1 L211.9,625.4 L213.9,625.6 L215.9,625.9 L217.9,626.1 L219.9,626.3 L221.9,626.6 L223.9,626.8 L226.0,627.0 L228.0,627.2 L230.0,627.4 L232.0,627.7 L234.0,627.9 L236.1,628.2 L238.1,628.4 L240.1,628.7 L242.1,629.0 L244.1,629.2 L246.1,629.5 L248.1,629.8 L250.2,630.1 L252.2,630.4 L254.2,630.7 L256.2,631.0 L258.2,631.3 L260.2,631.6 L262.2,631.9 L264.2,632.3 L266.2,632.6 L268.2,632.9 L270.2,633.3 L272.2,633.6 L274.2,633.9 L276.2,634.3 L278.2,634.6 L280.2,635.0 L282.1,635.3 L284.1,635.7 L286.1,636.0 L288.1,636.4 L290.0,636.7 L292.0,637.1 L294.0,637.4 L295.9,637.8 L297.9,638.1 L299.9,638.5 L301.8,638.8 L303.8,639.2 L305.7,639.5 L307.6,639.9 L309.6,640.2 L311.5,640.6 L313.4,641.0 L315.4,641.3 L317.3,641.7 L319.2,642.1 L321.1,642.5 L323.0,643.0 L324.9,643.4 L326.8,643.9 L328.7,644.4 L330.6,645.0 L332.5,645.7 L334.4,646.3 L336.3,647.1 L338.1,647.9 L340.0,648.8 L341.8,649.7 L343.6,650.7 L345.4,651.8 L347.1,652.9 L348.8,654.1 L350.4,655.3 L352.0,656.6 L353.6,658.0 L355.0,659.4 L356.4,660.8 L357.7,662.3 L359.0,663.9 L360.1,665.5 L361.2,667.1 L362.3,668.8 L363.3,670.5 L364.3,672.2 L365.2,674.0 L366.2,675.7 L367.1,677.5 L368.1,679.3 L369.0,681.2 L369.8,683.0 L370.7,684.9 L371.5,686.7 L372.2,688.6 L372.9,690.5 L373.5,692.4 L374.0,694.4 L374.5,696.3 L375.0,698.2 L375.4,700.1 L375.7,702.1 L376.1,704.0 L376.4,706.0 L376.8,708.0 L377.1,709.9 L377.3,711.9 L377.6,713.9 L377.9,715.8 L378.1,717.8 L378.3,719.8 L378.5,721.8 L378.7,723.8 L378.9,725.8 L379.1,727.8 L379.3,729.8 L379.4,731.8 L379.6,733.8 L379.7,735.8 L379.9,737.8 L380.0,739.8 L380.1,741.8 L380.3,743.8 L380.4,745.8 L380.5,747.9 L380.7,749.9 L380.8,751.9 L380.9,753.9 L381.1,755.9 L381.2,757.9 L381.3,760.0 L381.5,762.0 L381.6,764.0 L381.8,766.0 L381.9,768.0 L382.0,770.0 L382.1,772.0 L382.2,774.0 L382.3,776.1 L382.4,778.1 L382.5,780.1 L382.6,782.1 L382.6,784.1 L382.7,786.1 L382.7,788.1 L382.7,790.0 L382.7,792.0 L382.7,794.0 L382.7,796.0 L382.9,794.0 L383.2,792.0 L383.4,790.0 L383.6,788.1 L383.8,786.1 L384.0,784.1 L384.1,782.1 L384.3,780.1 L384.5,778.1 L384.6,776.1 L384.7,774.1 L384.8,772.1 L385.0,770.1 L385.1,768.1 L385.2,766.1 L385.3,764.1 L385.4,762.1 L385.5,760.1 L385.6,758.1 L385.7,756.1 L385.8,754.1 L385.9,752.1 L385.9,750.1 L386.0,748.1 L386.1,746.1 L386.2,744.1 L386.3,742.0 L386.4,740.0 L386.6,738.0 L386.7,736.0 L386.8,734.0 L386.9,732.0 L387.1,730.0 L387.2,728.0 L387.4,726.0 L387.6,724.0 L387.7,722.1 L387.9,720.1 L388.1,718.1 L388.4,716.1 L388.6,714.1 L388.8,712.1 L389.1,710.1 L389.4,708.1 L389.7,706.1 L390.0,704.2 L390.3,702.2 L390.7,700.2 L391.1,698.2 L391.5,696.2 L391.9,694.3 L392.3,692.3 L392.8,690.3 L393.3,688.4 L393.8,686.4 L394.3,684.5 L394.9,682.5 L395.4,680.6 L396.0,678.7 L396.6,676.9 L397.2,675.0 L397.9,673.2 L398.7,671.4 L399.5,669.6 L400.4,667.9 L401.3,666.2 L402.4,664.5 L403.5,662.9 L404.7,661.3 L405.9,659.8 L407.2,658.3 L408.6,656.8 L410.0,655.3 L411.4,653.9 L412.8,652.5 L414.3,651.1 L415.8,649.7 L417.3,648.3 L418.8,646.9 L420.3,645.5 L421.8,644.1 L423.3,642.7 L424.7,641.3 L426.1,639.8 L427.6,638.4 L429.0,637.0 L430.4,635.5 L431.7,634.1 L433.1,632.6 L434.4,631.1 L435.8,629.7 L437.1,628.2 L438.4,626.7 L439.8,625.2 L441.1,623.8 L442.4,622.3 L443.7,620.8 L445.0,619.3 L446.3,617.8 L447.6,616.3 L448.9,614.8 L450.2,613.3 L451.5,611.8 L452.8,610.3 L454.1,608.8 L455.4,607.3 L456.8,605.8 L458.1,604.3 L459.4,602.8 L460.8,601.4 L462.2,599.9 L463.5,598.4 L464.9,596.9 L466.3,595.5 L467.7,594.0 L469.2,592.5 L470.6,591.1 L472.0,589.7 L473.5,588.2 L474.9,586.8 L476.4,585.4 L477.8,584.0 L479.3,582.6 L480.7,581.2 L482.2,579.8 L483.6,578.4 L485.0,577.1 L486.5,575.7 L487.9,574.4 L489.3,573.1 L490.8,571.8 L492.2,570.5 L493.7,569.2 L495.2,567.9 L496.7,566.6 L498.2,565.4 L499.8,564.2 L501.3,562.9 L502.9,561.7 L504.5,560.5 L506.1,559.4 L507.7,558.2 L509.3,557.0 L511.0,555.9 L512.6,554.7 L514.3,553.6 L515.9,552.5 L517.6,551.4 L519.3,550.3 L521.0,549.2 L522.7,548.2 L524.4,547.1 L526.2,546.1 L527.9,545.1 L529.7,544.0 L531.4,543.0 L533.2,542.0 L534.9,541.0 L536.7,540.1 L538.5,539.1 L540.3,538.1 L542.1,537.2 L543.9,536.3 L545.7,535.3 L547.5,534.4 L549.3,533.5 L551.1,532.6 L552.9,531.8 L554.8,530.9 L556.6,530.0 L558.4,529.2 L560.3,528.3 L562.1,527.5 L563.9,526.7 L565.8,525.9 L567.6,525.0 L569.4,524.3 L571.3,523.5 L573.1,522.7 L574.9,521.9 L576.8,521.2 L578.6,520.4 L580.4,519.7 L582.3,518.9 L584.1,518.2 L585.9,517.5' stroke='#dc0000'/>
<path d='M165.2,589.9 L164.7,592.1 L164.6,594.2 L164.8,596.3 L165.2,598.2 L165.9,600.1 L166.8,601.8 L167.9,603.4 L169.2,604.8 L170.6,606.0 L172.1,607.1 L173.8,608.1 L175.5,609.0 L177.3,609.7 L179.1,610.5 L181.0,611.1 L182.9,611.8 L184.8,612.3 L186.7,612.9 L188.6,613.4 L190.5,613.8 L192.5,614.3 L194.4,614.6 L196.4,615.0 L198.4,615.3 L200.4,615.6 L202.4,615.9 L204.4,616.2 L206.5,616.4 L208.5,616.7 L210.5,616.9 L212.6,617.1 L214.6,617.3 L216.6,617.5 L218.7,617.7 L220.7,617.9 L222.8,618.1 L224.8,618.3 L226.8,618.5 L228.8,618.7 L230.9,619.0 L232.9,619.2 L234.9,619.5 L236.9,619.7 L238.9,620.0 L240.9,620.3 L242.9,620.6 L244.9,620.9 L246.9,621.2 L248.8,621.5 L250.8,621.8 L252.8,622.1 L254.8,622.4 L256.7,622.7 L258.7,623.0 L260.7,623.3 L262.6,623.6 L264.6,623.9 L266.5,624.2 L268.5,624.5 L270.5,624.8 L272.4,625.0 L274.4,625.3 L276.3,625.6 L278.3,625.8 L280.2,626.1 L282.2,626.3 L284.2,626.5 L286.1,626.8 L288.1,627.0 L290.0,627.3 L292.0,627.5 L294.0,627.8 L295.9,628.1 L297.9,628.4 L299.9,628.8 L301.9,629.1 L303.8,629.5 L305.8,629.9 L307.8,630.4 L309.8,630.9 L311.8,631.5 L313.8,632.0 L315.7,632.7 L317.7,633.3 L319.7,634.0 L321.6,634.7 L323.5,635.5 L325.4,636.3 L327.3,637.2 L329.1,638.1 L331.0,639.0 L332.8,640.0 L334.5,641.0 L336.2,642.0 L337.9,643.1 L339.6,644.3 L341.2,645.4 L342.8,646.7 L344.3,647.9 L345.8,649.2 L347.2,650.6 L348.5,652.0 L349.9,653.4 L351.1,654.9 L352.3,656.4 L353.5,658.0 L354.6,659.6 L355.7,661.2 L356.7,662.9 L357.7,664.6 L358.6,666.3 L359.5,668.1 L360.3,669.9 L361.1,671.7 L361.9,673.5 L362.6,675.4 L363.3,677.2 L364.0,679.1 L364.6,681.1 L365.2,683.0 L365.8,684.9 L366.3,686.9 L366.8,688.9 L367.3,690.9 L367.8,692.9 L368.2,694.9 L368.6,696.9 L369.0,698.9 L369.4,700.9 L369.8,702.9 L370.1,704.9 L370.4,706.9 L370.7,708.9 L371.0,710.9 L371.3,712.9 L371.5,715.0 L371.8,717.0 L372.0,719.0 L372.2,721.0 L372.4,723.0 L372.6,725.0 L372.8,726.9 L372.9,728.9 L373.1,730.9 L373.2,732.9 L373.4,734.9 L373.5,736.9 L373.6,738.9 L373.7,740.9 L373.8,742.9 L373.9,744.9 L373.9,746.9 L374.0,748.9 L374.1,750.8 L374.1,752.8 L374.2,754.8 L374.2,756.8 L374.3,758.8 L374.3,760.8 L374.3,762.8 L374.3,764.8 L374.3,766.8 L374.4,768.7 L374.4,770.7 L374.4,772.7 L374.4,774.7 L374.4,776.7 L374.4,778.7 L374.4,780.7 L374.4,782.7 L374.4,784.7 L374.4,786.7 L374.4,788.7 L374.4,790.7 L374.4,792.7 L374.4,794.7 L374.4,796.7 L374.4,798.7 L374.4,800.7 L374.5,802.7 L374.5,804.7 L374.5,806.7 L374.5,808.8 L374.6,810.8 L374.6,812.8 L374.7,814.8 L374.7,816.8 L374.8,818.9 L374.8,820.9 L374.9,822.9 L375.0,825.0 L375.1,827.0 L375.2,825.0 L375.2,823.0 L375.3,821.0 L375.4,819.0 L375.4,817.0 L375.5,815.0 L375.6,813.0 L375.7,811.0 L375.7,809.0 L375.8,807.0 L375.9,805.0 L375.9,803.0 L376.0,801.0 L376.1,799.0 L376.1,797.0 L376.2,795.0 L376.2,793.0 L376.3,791.0 L376.4,789.0 L376.4,787.0 L376.5,785.0 L376.5,782.9 L376.6,780.9 L376.7,778.9 L376.7,776.9 L376.8,774.9 L376.8,772.9 L376.9,770.9 L376.9,768.9 L377.0,766.9 L377.0,764.9 L377.1,762.9 L377.1,760.9 L377.1,758.9 L377.2,756.9 L377.2,754.9 L377.3,752.9 L377.3,750.9 L377.3,748.9 L377.4,746.9 L377.4,744.9 L377.4,742.8 L377.5,740.8 L377.5,738.8 L377.6,736.8 L377.6,734.8 L377.7,732.8 L377.7,730.8 L377.8,728.8 L377.9,726.8 L377.9,724.8 L378.0,722.8 L378.1,720.8 L378.2,718.8 L378.3,716.8 L378.4,714.8 L378.6,712.8 L378.7,710.8 L378.9,708.8 L379.1,706.8 L379.2,704.8 L379.4,702.8 L379.7,700.8 L379.9,698.8 L380.1,696.8 L380.4,694.8 L380.7,692.8 L381.0,690.8 L381.3,688.8 L381.7,686.8 L382.0,684.8 L382.4,682.9 L382.8,680.9 L383.2,678.9 L383.7,677.0 L384.1,675.0 L384.6,673.1 L385.2,671.2 L385.7,669.3 L386.3,667.3 L386.9,665.4 L387.5,663.6 L388.1,661.7 L388.8,659.8 L389.5,657.9 L390.3,656.1 L391.0,654.3 L391.8,652.4 L392.7,650.6 L393.5,648.8 L394.4,647.1 L395.3,645.3 L396.3,643.6 L397.2,641.8 L398.2,640.1 L399.3,638.4 L400.3,636.7 L401.4,635.0 L402.5,633.3 L403.6,631.7 L404.7,630.0 L405.9,628.4 L407.1,626.8 L408.3,625.1 L409.5,623.5 L410.7,621.9 L411.9,620.3 L413.2,618.8 L414.4,617.2 L415.7,615.6 L417.0,614.1 L418.3,612.5 L419.6,611.0 L420.9,609.4 L422.2,607.9 L423.5,606.4 L424.8,604.9 L426.1,603.4 L427.4,601.9 L428.7,600.4 L430.0,598.9 L431.4,597.4 L432.7,595.9 L434.0,594.4 L435.4,592.9 L436.7,591.5 L438.1,590.0 L439.4,588.5 L440.8,587.1 L442.2,585.6 L443.5,584.2 L444.9,582.7 L446.3,581.3 L447.7,579.8 L449.1,578.4 L450.5,576.9 L451.9,575.5 L453.3,574.0 L454.7,572.6 L456.1,571.2 L457.6,569.8 L459.0,568.3 L460.5,566.9 L461.9,565.5 L463.4,564.1 L464.8,562.7 L466.3,561.3 L467.8,559.9 L469.3,558.6 L470.7,557.2 L472.2,555.9 L473.7,554.5 L475.3,553.2 L476.8,551.9 L478.3,550.6 L479.9,549.3 L481.4,548.0 L483.0,546.8 L484.5,545.5 L486.1,544.3 L487.7,543.1 L489.3,541.9 L490.9,540.7 L492.5,539.5 L494.1,538.4 L495.7,537.2 L497.4,536.1 L499.0,535.0 L500.7,534.0 L502.4,532.9 L504.0,531.9 L505.7,530.8 L507.5,529.8 L509.2,528.9 L510.9,527.9 L512.7,527.0 L514.4,526.1 L516.2,525.2 L518.0,524.3 L519.8,523.5 L521.6,522.6 L523.4,521.8 L525.3,521.0 L527.1,520.2 L528.9,519.4 L530.8,518.7 L532.7,517.9 L534.5,517.2 L536.4,516.4 L538.3,515.7 L540.1,515.0 L542.0,514.3 L543.9,513.6 L545.8,512.9 L547.7,512.2 L549.6,511.5 L551.5,510.8 L553.4,510.1 L555.3,509.4 L557.2,508.8 L559.1,508.1 L561.0,507.4 L562.9,506.7 L564.8,506.0 L566.6,505.3 L568.5,504.6 L570.4,503.9 L572.3,503.2 L574.2,502.5 L576.0,501.8 L577.9,501.1 L579.7,500.3 L581.6,499.6 L583.4,498.8' stroke='#0000ff'/>
<path d='M192.7,627.7 L192.1,629.9 L191.8,632.0 L191.7,634.1 L192.0,636.1 L192.4,638.0 L193.1,639.9 L194.0,641.7 L195.1,643.4 L196.3,645.0 L197.6,646.5 L199.1,647.9 L200.6,649.2 L202.2,650.5 L203.8,651.6 L205.5,652.6 L207.2,653.5 L208.9,654.4 L210.7,655.2 L212.5,655.8 L214.3,656.5 L216.1,657.0 L218.0,657.5 L219.9,657.9 L221.8,658.3 L223.7,658.7 L225.7,659.0 L227.6,659.3 L229.6,659.6 L231.6,659.8 L233.6,660.0 L235.6,660.3 L237.7,660.5 L239.7,660.7 L241.8,660.9 L243.8,661.2 L245.9,661.4 L247.9,661.7 L250.0,661.9 L252.1,662.2 L254.2,662.4 L256.2,662.7 L258.3,662.9 L260.4,663.1 L262.4,663.4 L264.5,663.6 L266.5,663.8 L268.6,664.0 L270.6,664.1 L272.6,664.3 L274.7,664.5 L276.7,664.6 L278.7,664.8 L280.7,665.0 L282.7,665.1 L284.7,665.3 L286.7,665.5 L288.6,665.7 L290.6,665.9 L292.6,666.1 L294.5,666.3 L296.5,666.5 L298.4,666.8 L300.4,667.1 L302.3,667.4 L304.2,667.7 L306.2,668.1 L308.1,668.5 L310.0,668.9 L311.9,669.4 L313.8,669.9 L315.7,670.4 L317.6,671.0 L319.5,671.6 L321.4,672.3 L323.3,673.0 L325.2,673.8 L327.1,674.6 L328.9,675.4 L330.8,676.3 L332.6,677.2 L334.4,678.2 L336.2,679.2 L337.9,680.3 L339.7,681.4 L341.4,682.5 L343.0,683.7 L344.7,684.9 L346.2,686.2 L347.8,687.5 L349.3,688.8 L350.8,690.2 L352.2,691.6 L353.5,693.0 L354.9,694.5 L356.1,696.0 L357.4,697.5 L358.6,699.1 L359.7,700.7 L360.8,702.3 L361.9,704.0 L362.9,705.7 L363.9,707.4 L364.9,709.1 L365.8,710.9 L366.7,712.7 L367.5,714.5 L368.3,716.3 L369.1,718.1 L369.8,720.0 L370.5,721.9 L371.2,723.8 L371.8,725.7 L372.5,727.6 L373.0,729.6 L373.6,731.5 L374.1,733.5 L374.6,735.5 L375.1,737.4 L375.5,739.4 L375.9,741.4 L376.3,743.4 L376.7,745.5 L377.0,747.5 L377.4,749.5 L377.7,751.5 L377.9,753.5 L378.2,755.6 L378.4,757.6 L378.7,759.6 L378.9,761.6 L379.1,763.6 L379.2,765.7 L379.4,767.7 L379.5,769.7 L379.7,771.7 L379.8,773.7 L379.9,775.7 L380.0,777.7 L380.1,779.7 L380.2,781.7 L380.2,783.7 L380.3,785.7 L380.3,787.7 L380.4,789.7 L380.5,791.7 L380.5,793.6 L380.6,795.6 L380.6,797.6 L380.6,799.6 L380.7,801.6 L380.7,803.6 L380.8,805.6 L380.9,807.6 L380.9,809.6 L381.0,811.6 L381.1,813.5 L381.1,815.5 L381.2,817.5 L381.3,819.5 L381.4,821.5 L381.5,823.5 L381.6,825.5 L381.7,827.5 L381.8,829.5 L381.9,831.5 L381.9,833.5 L382.0,835.5 L382.1,837.5 L382.2,839.5 L382.3,841.6 L382.3,843.6 L382.4,845.6 L382.4,847.6 L382.5,849.6 L382.5,851.7 L382.6,853.7 L382.6,855.7 L382.6,857.8 L382.6,859.8 L382.6,857.8 L382.6,855.8 L382.5,853.9 L382.6,851.9 L382.6,849.9 L382.6,847.9 L382.7,845.9 L382.7,843.9 L382.8,841.9 L382.9,839.9 L383.0,837.9 L383.1,835.9 L383.2,833.9 L383.3,831.9 L383.4,829.9 L383.6,827.9 L383.7,825.9 L383.8,823.9 L384.0,821.9 L384.1,819.9 L384.2,817.9 L384.4,815.9 L384.5,813.9 L384.7,811.9 L384.8,809.9 L384.9,807.8 L385.1,805.8 L385.2,803.8 L385.4,801.8 L385.5,799.8 L385.6,797.8 L385.8,795.8 L385.9,793.8 L386.0,791.8 L386.2,789.8 L386.3,787.8 L386.4,785.8 L386.6,783.8 L386.7,781.7 L386.8,779.7 L387.0,777.7 L387.1,775.7 L387.2,773.7 L387.3,771.7 L387.5,769.7 L387.6,767.7 L387.7,765.7 L387.8,763.7 L387.9,761.7 L388.1,759.7 L388.2,757.7 L388.3,755.8 L388.4,753.8 L388.5,751.8 L388.7,749.8 L388.8,747.8 L388.9,745.8 L389.0,743.8 L389.1,741.9 L389.3,739.9 L389.4,737.9 L389.6,735.9 L389.7,734.0 L389.9,732.0 L390.1,730.0 L390.3,728.1 L390.6,726.1 L390.9,724.1 L391.2,722.2 L391.5,720.2 L391.9,718.3 L392.3,716.3 L392.8,714.4 L393.3,712.5 L393.8,710.5 L394.4,708.6 L395.0,706.6 L395.6,704.7 L396.2,702.8 L396.8,700.9 L397.4,698.9 L398.0,697.0 L398.6,695.1 L399.2,693.2 L399.8,691.3 L400.4,689.4 L400.9,687.5 L401.4,685.6 L402.0,683.7 L402.5,681.8 L403.1,680.0 L403.6,678.1 L404.2,676.2 L404.8,674.3 L405.5,672.5 L406.2,670.6 L406.9,668.8 L407.7,666.9 L408.5,665.1 L409.3,663.2 L410.2,661.4 L411.1,659.6 L412.0,657.7 L412.9,655.9 L413.8,654.1 L414.8,652.3 L415.7,650.5 L416.7,648.7 L417.7,646.9 L418.7,645.1 L419.6,643.3 L420.6,641.5 L421.6,639.8 L422.6,638.0 L423.6,636.3 L424.7,634.5 L425.7,632.8 L426.8,631.1 L427.8,629.4 L428.9,627.7 L430.0,626.1 L431.1,624.4 L432.2,622.8 L433.4,621.2 L434.5,619.6 L435.7,618.0 L436.9,616.4 L438.1,614.9 L439.4,613.4 L440.6,611.9 L441.9,610.4 L443.2,608.9 L444.6,607.5 L445.9,606.1 L447.3,604.7 L448.7,603.3 L450.2,602.0 L451.7,600.7 L453.2,599.4 L454.7,598.2 L456.3,597.0 L457.9,595.8 L459.5,594.7 L461.2,593.5 L462.9,592.4 L464.6,591.4 L466.4,590.3 L468.2,589.3 L469.9,588.3 L471.7,587.3 L473.5,586.2 L475.2,585.2 L476.9,584.1 L478.6,583.0 L480.2,581.8 L481.8,580.7 L483.3,579.5 L484.9,578.2 L486.4,577.0 L487.9,575.7 L489.4,574.5 L490.9,573.2 L492.4,571.9 L493.9,570.6 L495.5,569.3 L497.0,568.0 L498.5,566.7 L500.0,565.4 L501.5,564.1 L503.1,562.8 L504.6,561.6 L506.2,560.3 L507.7,559.0 L509.3,557.8 L510.9,556.6 L512.5,555.4 L514.1,554.2 L515.8,553.1 L517.4,551.9 L519.1,550.8 L520.8,549.8 L522.5,548.7 L524.3,547.7 L526.0,546.7 L527.8,545.8' stroke='#326e6e'/>
</g>
<rect x='95.0' y='491.3' width='542.2' height='398.5' fill='none' stroke='#000' stroke-width='1.8'/>
<text x='85.6' y='580.4' font-size='16' text-anchor='end'>1E-4</text>
<text x='85.6' y='680.1' font-size='16' text-anchor='end'>1E-5</text>
<text x='85.6' y='779.8' font-size='16' text-anchor='end'>1E-6</text>
<text x='85.6' y='879.5' font-size='16' text-anchor='end'>1E-7</text>
<text x='95.0' y='910.9' font-size='16' text-anchor='middle'>-0.95</text>
<text x='149.2' y='910.9' font-size='16' text-anchor='middle'>-0.90</text>
<text x='203.4' y='910.9' font-size='16' text-anchor='middle'>-0.85</text>
<text x='257.7' y='910.9' font-size='16' text-anchor='middle'>-0.80</text>
<text x='311.9' y='910.9' font-size='16' text-anchor='middle'>-0.75</text>
<text x='366.1' y='910.9' font-size='16' text-anchor='middle'>-0.70</text>
<text x='420.3' y='910.9' font-size='16' text-anchor='middle'>-0.65</text>
<text x='474.5' y='910.9' font-size='16' text-anchor='middle'>-0.60</text>
<text x='528.8' y='910.9' font-size='16' text-anchor='middle'>-0.55</text>
<text x='583.0' y='910.9' font-size='16' text-anchor='middle'>-0.50</text>
<text x='637.2' y='910.9' font-size='16' text-anchor='middle'>-0.45</text>
<text x='274.9' y='942.8' font-size='19.5' text-anchor='start'>Potential (V vs. SCE)</text>
<text transform='translate(22.6,796.5) rotate(-90)' font-size='19.5'>Current density (Acm<tspan font-size='12' dy='-10.5'>-2</tspan><tspan dy='10.5'>)</tspan></text>
<text x='122.7' y='530.8' font-size='19.5' text-anchor='start'>Fe84 alloys</text>
<text x='0.9' y='941.1' font-size='27' text-anchor='start' font-weight='bold'>(b)</text>
<rect x='489.4' y='741.9' width='116.7' height='95.7' fill='#fff' stroke='#6a6a6a' stroke-width='1.2'/>
<path d='M492.8,755.5H537.2' stroke='#000000' stroke-width='2.1'/>
<text x='542.7' y='762.3' font-size='19' text-anchor='start'>Fe84-1</text>
<path d='M492.8,779.3H537.2' stroke='#dc0000' stroke-width='2.1'/>
<text x='542.7' y='786.1' font-size='19' text-anchor='start'>Fe84-2</text>
<path d='M492.8,803.1H537.2' stroke='#0000ff' stroke-width='2.1'/>
<text x='542.7' y='809.9' font-size='19' text-anchor='start'>Fe84-3</text>
<path d='M492.8,826.9H537.2' stroke='#326e6e' stroke-width='2.1'/>
<text x='542.7' y='833.7' font-size='19' text-anchor='start'>Fe84-4</text>
<clipPath id='cc'><rect x='95.0' y='979.9' width='542.2' height='398.9'/></clipPath>
<path d='M95.0,1066.80h8.6M95.0,1037.04h4.8M95.0,1019.63h4.8M95.0,1007.27h4.8M95.0,997.69h4.8M95.0,989.86h4.8M95.0,983.25h4.8M95.0,1165.67h8.6M95.0,1135.91h4.8M95.0,1118.50h4.8M95.0,1106.14h4.8M95.0,1096.56h4.8M95.0,1088.73h4.8M95.0,1082.12h4.8M95.0,1076.38h4.8M95.0,1071.32h4.8M95.0,1264.54h8.6M95.0,1234.78h4.8M95.0,1217.37h4.8M95.0,1205.01h4.8M95.0,1195.43h4.8M95.0,1187.60h4.8M95.0,1180.99h4.8M95.0,1175.25h4.8M95.0,1170.19h4.8M95.0,1363.41h8.6M95.0,1333.65h4.8M95.0,1316.24h4.8M95.0,1303.88h4.8M95.0,1294.30h4.8M95.0,1286.47h4.8M95.0,1279.86h4.8M95.0,1274.12h4.8M95.0,1269.06h4.8M95.0,1372.99h4.8M95.0,1367.93h4.8M120.90,1378.8v-8.6M146.71,1378.8v-4.8M172.53,1378.8v-8.6M198.34,1378.8v-4.8M224.16,1378.8v-8.6M249.97,1378.8v-4.8M275.79,1378.8v-8.6M301.61,1378.8v-4.8M327.42,1378.8v-8.6M353.24,1378.8v-4.8M379.05,1378.8v-8.6M404.87,1378.8v-4.8M430.68,1378.8v-8.6M456.50,1378.8v-4.8M482.31,1378.8v-8.6M508.12,1378.8v-4.8M533.94,1378.8v-8.6M559.75,1378.8v-4.8M585.57,1378.8v-8.6M611.38,1378.8v-4.8' stroke='#000' stroke-width='1.8' fill='none'/>
<g clip-path='url(#cc)' fill='none' stroke-width='2.2' stroke-linejoin='round' stroke-linecap='round'>
<path d='M181.4,1078.8 L181.2,1081.1 L181.2,1083.3 L181.4,1085.3 L181.8,1087.3 L182.4,1089.1 L183.2,1090.8 L184.1,1092.4 L185.2,1093.9 L186.4,1095.3 L187.8,1096.7 L189.2,1097.9 L190.8,1099.1 L192.5,1100.2 L194.2,1101.2 L196.0,1102.1 L197.8,1103.0 L199.7,1103.8 L201.5,1104.6 L203.4,1105.3 L205.3,1106.0 L207.3,1106.6 L209.2,1107.2 L211.1,1107.8 L213.1,1108.3 L215.1,1108.7 L217.0,1109.2 L219.0,1109.6 L221.0,1110.0 L223.0,1110.3 L224.9,1110.7 L226.9,1111.0 L228.9,1111.3 L230.9,1111.5 L232.9,1111.8 L234.9,1112.1 L236.9,1112.3 L238.9,1112.6 L240.9,1112.8 L242.9,1113.0 L244.9,1113.3 L246.9,1113.5 L248.9,1113.8 L250.8,1114.0 L252.8,1114.2 L254.8,1114.5 L256.8,1114.7 L258.8,1114.9 L260.7,1115.2 L262.7,1115.4 L264.7,1115.7 L266.6,1115.9 L268.6,1116.2 L270.6,1116.5 L272.5,1116.7 L274.5,1117.0 L276.5,1117.3 L278.4,1117.5 L280.4,1117.8 L282.4,1118.1 L284.3,1118.4 L286.3,1118.7 L288.2,1119.0 L290.2,1119.4 L292.2,1119.7 L294.1,1120.0 L296.1,1120.4 L298.1,1120.7 L300.0,1121.1 L302.0,1121.5 L303.9,1121.8 L305.9,1122.2 L307.9,1122.7 L309.8,1123.1 L311.8,1123.5 L313.8,1123.9 L315.7,1124.4 L317.7,1124.9 L319.7,1125.4 L321.6,1125.9 L323.6,1126.4 L325.5,1127.0 L327.5,1127.6 L329.4,1128.2 L331.4,1128.8 L333.3,1129.5 L335.2,1130.2 L337.2,1131.0 L339.1,1131.8 L341.0,1132.6 L342.8,1133.5 L344.6,1134.5 L346.4,1135.5 L348.1,1136.5 L349.7,1137.6 L351.2,1138.8 L352.7,1140.0 L354.1,1141.3 L355.5,1142.6 L356.7,1144.0 L358.0,1145.5 L359.2,1147.0 L360.3,1148.6 L361.3,1150.2 L362.3,1151.9 L363.3,1153.6 L364.2,1155.4 L365.1,1157.2 L365.9,1159.0 L366.7,1160.8 L367.4,1162.7 L368.1,1164.6 L368.8,1166.5 L369.4,1168.4 L370.0,1170.3 L370.6,1172.3 L371.1,1174.2 L371.6,1176.2 L372.1,1178.1 L372.5,1180.1 L372.9,1182.1 L373.3,1184.1 L373.7,1186.0 L374.1,1188.0 L374.4,1190.0 L374.8,1192.0 L375.1,1194.0 L375.4,1196.0 L375.7,1198.0 L376.0,1200.0 L376.2,1201.9 L376.5,1203.9 L376.7,1205.9 L377.0,1207.9 L377.2,1209.9 L377.4,1211.9 L377.6,1213.9 L377.8,1215.9 L378.0,1217.9 L378.1,1219.9 L378.3,1221.8 L378.4,1223.8 L378.6,1225.8 L378.7,1227.8 L378.8,1229.8 L378.9,1231.8 L379.1,1233.8 L379.2,1235.8 L379.2,1237.8 L379.3,1239.8 L379.4,1241.8 L379.5,1243.8 L379.6,1245.7 L379.6,1247.7 L379.7,1249.7 L379.7,1251.7 L379.8,1253.7 L379.8,1255.7 L379.9,1257.7 L379.9,1259.7 L379.9,1261.7 L380.0,1263.7 L380.0,1265.7 L380.0,1267.7 L380.1,1269.7 L380.1,1271.7 L380.1,1273.7 L380.1,1275.7 L380.2,1277.7 L380.2,1279.7 L380.2,1281.7 L380.2,1283.7 L380.2,1285.6 L380.3,1287.6 L380.3,1289.6 L380.3,1291.6 L380.4,1293.6 L380.4,1295.6 L380.4,1297.6 L380.5,1299.6 L380.5,1301.6 L380.5,1303.6 L380.6,1305.7 L380.6,1307.7 L380.7,1309.7 L380.8,1311.7 L380.8,1313.7 L380.9,1315.7 L381.0,1317.7 L381.1,1319.7 L381.2,1321.7 L381.3,1323.7 L381.4,1325.7 L381.5,1327.7 L381.5,1325.7 L381.5,1323.7 L381.6,1321.7 L381.6,1319.7 L381.6,1317.7 L381.6,1315.7 L381.7,1313.6 L381.7,1311.6 L381.8,1309.6 L381.8,1307.6 L381.9,1305.6 L381.9,1303.6 L381.9,1301.6 L382.0,1299.6 L382.1,1297.6 L382.1,1295.6 L382.2,1293.6 L382.2,1291.6 L382.3,1289.6 L382.4,1287.6 L382.4,1285.6 L382.5,1283.6 L382.6,1281.6 L382.6,1279.6 L382.7,1277.6 L382.8,1275.6 L382.8,1273.6 L382.9,1271.6 L383.0,1269.6 L383.1,1267.6 L383.1,1265.6 L383.2,1263.6 L383.3,1261.6 L383.3,1259.6 L383.4,1257.6 L383.5,1255.6 L383.6,1253.6 L383.6,1251.6 L383.7,1249.6 L383.8,1247.6 L383.9,1245.6 L383.9,1243.6 L384.0,1241.6 L384.1,1239.6 L384.2,1237.7 L384.3,1235.7 L384.4,1233.7 L384.5,1231.7 L384.6,1229.7 L384.7,1227.7 L384.8,1225.7 L385.0,1223.7 L385.1,1221.7 L385.3,1219.7 L385.4,1217.8 L385.6,1215.8 L385.8,1213.8 L386.0,1211.8 L386.2,1209.8 L386.5,1207.8 L386.7,1205.8 L387.0,1203.8 L387.2,1201.9 L387.5,1199.9 L387.8,1197.9 L388.2,1195.9 L388.5,1193.9 L388.9,1191.9 L389.2,1190.0 L389.6,1188.0 L390.0,1186.0 L390.5,1184.0 L390.9,1182.1 L391.4,1180.1 L391.9,1178.2 L392.4,1176.2 L392.9,1174.2 L393.4,1172.3 L394.0,1170.4 L394.5,1168.4 L395.1,1166.5 L395.7,1164.6 L396.4,1162.7 L397.0,1160.8 L397.7,1158.9 L398.4,1157.0 L399.1,1155.1 L399.8,1153.2 L400.6,1151.3 L401.3,1149.5 L402.1,1147.6 L402.9,1145.8 L403.8,1144.0 L404.6,1142.2 L405.5,1140.4 L406.4,1138.6 L407.3,1136.8 L408.2,1135.0 L409.1,1133.3 L410.1,1131.5 L411.1,1129.8 L412.1,1128.1 L413.2,1126.4 L414.2,1124.7 L415.3,1123.0 L416.4,1121.4 L417.5,1119.7 L418.6,1118.1 L419.8,1116.5 L421.0,1114.9 L422.2,1113.3 L423.4,1111.8 L424.7,1110.2 L425.9,1108.7 L427.2,1107.2 L428.5,1105.7 L429.8,1104.2 L431.1,1102.7 L432.4,1101.2 L433.8,1099.7 L435.1,1098.2 L436.5,1096.8 L437.9,1095.3 L439.3,1093.9 L440.6,1092.4 L442.0,1091.0 L443.4,1089.5 L444.8,1088.1 L446.3,1086.7 L447.7,1085.2 L449.1,1083.8 L450.5,1082.4 L451.9,1081.0 L453.3,1079.5 L454.7,1078.1 L456.1,1076.7 L457.5,1075.2 L459.0,1073.8 L460.4,1072.4 L461.8,1070.9 L463.2,1069.5 L464.6,1068.1 L466.0,1066.6 L467.4,1065.2 L468.8,1063.8 L470.2,1062.3 L471.7,1060.9 L473.1,1059.5 L474.5,1058.1 L475.9,1056.6 L477.3,1055.2 L478.7,1053.8 L480.1,1052.3 L481.5,1050.9 L482.9,1049.5 L484.3,1048.0 L485.7,1046.6 L487.1,1045.2 L488.5,1043.7 L489.9,1042.3 L491.3,1040.9 L492.7,1039.5 L494.1,1038.0 L495.5,1036.6 L496.9,1035.2 L498.3,1033.7 L499.7,1032.3 L501.1,1030.9 L502.5,1029.5 L503.9,1028.1 L505.3,1026.6 L506.7,1025.3 L508.1,1023.9 L509.5,1022.5 L511.0,1021.2 L512.5,1019.9 L514.0,1018.7 L515.5,1017.4 L517.1,1016.2 L518.7,1015.1 L520.3,1014.0 L522.0,1013.0 L523.7,1012.0 L525.5,1011.0 L527.3,1010.1 L529.1,1009.2 L530.9,1008.4 L532.8,1007.6 L534.7,1006.8 L536.5,1006.0 L538.5,1005.3 L540.4,1004.6 L542.3,1004.0 L544.2,1003.3 L546.1,1002.7 L548.1,1002.0 L550.0,1001.4 L551.9,1000.8 L553.8,1000.2 L555.7,999.5 L557.6,998.9 L559.5,998.2 L561.4,997.6 L563.2,996.8 L565.0,996.1 L566.8,995.3' stroke='#000000'/>
<path d='M146.8,1112.2 L146.7,1114.4 L146.9,1116.5 L147.4,1118.6 L148.1,1120.5 L149.1,1122.2 L150.3,1123.6 L151.6,1124.8 L153.2,1125.8 L154.8,1126.6 L156.6,1127.3 L158.4,1127.8 L160.3,1128.2 L162.3,1128.6 L164.2,1128.9 L166.2,1129.2 L168.2,1129.5 L170.1,1129.7 L172.2,1129.9 L174.2,1130.1 L176.2,1130.2 L178.2,1130.4 L180.3,1130.5 L182.3,1130.6 L184.4,1130.6 L186.4,1130.7 L188.5,1130.8 L190.5,1130.8 L192.5,1130.9 L194.6,1130.9 L196.6,1131.0 L198.6,1131.1 L200.7,1131.1 L202.7,1131.2 L204.7,1131.3 L206.7,1131.4 L208.7,1131.5 L210.7,1131.5 L212.8,1131.6 L214.8,1131.7 L216.8,1131.8 L218.8,1131.9 L220.7,1132.1 L222.7,1132.2 L224.7,1132.3 L226.7,1132.4 L228.7,1132.5 L230.7,1132.7 L232.7,1132.8 L234.7,1132.9 L236.6,1133.1 L238.6,1133.2 L240.6,1133.4 L242.6,1133.5 L244.6,1133.7 L246.5,1133.9 L248.5,1134.0 L250.5,1134.2 L252.5,1134.4 L254.5,1134.5 L256.4,1134.7 L258.4,1134.9 L260.4,1135.1 L262.4,1135.3 L264.4,1135.5 L266.4,1135.7 L268.4,1135.9 L270.4,1136.2 L272.4,1136.4 L274.4,1136.6 L276.4,1136.9 L278.4,1137.1 L280.3,1137.4 L282.3,1137.6 L284.3,1137.9 L286.3,1138.2 L288.3,1138.5 L290.3,1138.8 L292.3,1139.2 L294.3,1139.6 L296.3,1139.9 L298.2,1140.3 L300.2,1140.8 L302.2,1141.2 L304.1,1141.7 L306.1,1142.2 L308.0,1142.7 L309.9,1143.2 L311.9,1143.8 L313.8,1144.4 L315.7,1145.1 L317.6,1145.7 L319.5,1146.4 L321.4,1147.2 L323.2,1147.9 L325.1,1148.7 L326.9,1149.6 L328.8,1150.4 L330.6,1151.4 L332.4,1152.3 L334.1,1153.3 L335.9,1154.3 L337.6,1155.4 L339.3,1156.5 L340.9,1157.6 L342.6,1158.8 L344.1,1160.1 L345.7,1161.3 L347.2,1162.6 L348.6,1164.0 L350.0,1165.4 L351.4,1166.8 L352.7,1168.2 L353.9,1169.8 L355.1,1171.3 L356.2,1172.9 L357.3,1174.5 L358.3,1176.2 L359.2,1177.9 L360.1,1179.7 L360.9,1181.5 L361.7,1183.3 L362.4,1185.2 L363.0,1187.1 L363.6,1189.0 L364.2,1190.9 L364.7,1192.9 L365.2,1194.9 L365.6,1196.9 L366.0,1198.9 L366.4,1200.9 L366.8,1202.9 L367.2,1204.9 L367.5,1206.9 L367.8,1209.0 L368.1,1211.0 L368.4,1213.0 L368.7,1215.0 L369.0,1217.0 L369.3,1219.0 L369.5,1221.0 L369.8,1223.0 L370.0,1225.0 L370.2,1227.0 L370.4,1229.0 L370.6,1231.0 L370.8,1233.0 L371.0,1235.0 L371.2,1237.0 L371.3,1239.0 L371.5,1241.0 L371.6,1243.0 L371.8,1245.0 L371.9,1247.0 L372.0,1248.9 L372.1,1250.9 L372.2,1252.9 L372.3,1254.9 L372.4,1256.9 L372.5,1258.9 L372.6,1260.9 L372.7,1262.9 L372.8,1264.8 L372.8,1266.8 L372.9,1268.8 L372.9,1270.8 L373.0,1272.8 L373.1,1274.8 L373.1,1276.8 L373.2,1278.8 L373.2,1280.8 L373.2,1282.8 L373.3,1284.7 L373.3,1286.7 L373.4,1288.7 L373.4,1290.7 L373.4,1292.7 L373.5,1294.7 L373.5,1296.7 L373.5,1298.7 L373.6,1300.7 L373.6,1302.7 L373.6,1304.7 L373.7,1306.8 L373.7,1308.8 L373.7,1310.8 L373.8,1312.8 L373.8,1314.8 L373.9,1316.8 L373.9,1318.9 L374.0,1320.9 L374.0,1322.9 L374.1,1324.9 L374.1,1327.0 L374.2,1329.0 L374.3,1327.0 L374.4,1325.0 L374.5,1323.0 L374.6,1321.0 L374.7,1319.0 L374.8,1317.0 L374.8,1315.0 L374.9,1313.0 L375.0,1311.0 L375.1,1309.0 L375.2,1307.0 L375.2,1305.0 L375.3,1303.0 L375.4,1301.0 L375.5,1299.0 L375.5,1297.0 L375.6,1295.0 L375.7,1293.0 L375.7,1290.9 L375.8,1288.9 L375.9,1286.9 L376.0,1284.9 L376.0,1282.9 L376.1,1280.9 L376.2,1278.9 L376.2,1276.9 L376.3,1274.9 L376.4,1272.9 L376.5,1270.9 L376.6,1268.9 L376.7,1266.9 L376.7,1264.9 L376.8,1262.9 L376.9,1260.9 L377.0,1258.9 L377.1,1256.9 L377.2,1254.9 L377.3,1252.9 L377.4,1250.9 L377.6,1248.9 L377.7,1246.9 L377.8,1244.9 L377.9,1242.9 L378.1,1240.9 L378.2,1238.9 L378.3,1236.9 L378.5,1235.0 L378.6,1233.0 L378.8,1231.0 L379.0,1229.0 L379.1,1227.0 L379.3,1225.0 L379.5,1223.0 L379.7,1221.0 L379.9,1219.1 L380.1,1217.1 L380.3,1215.1 L380.5,1213.1 L380.8,1211.1 L381.0,1209.2 L381.3,1207.2 L381.5,1205.2 L381.8,1203.2 L382.1,1201.3 L382.4,1199.3 L382.8,1197.3 L383.1,1195.4 L383.5,1193.4 L383.8,1191.4 L384.2,1189.5 L384.6,1187.5 L385.1,1185.5 L385.5,1183.6 L386.0,1181.6 L386.5,1179.7 L387.0,1177.7 L387.5,1175.8 L388.1,1173.8 L388.6,1171.9 L389.2,1169.9 L389.8,1168.0 L390.4,1166.1 L391.1,1164.1 L391.7,1162.2 L392.4,1160.3 L393.1,1158.4 L393.7,1156.5 L394.4,1154.6 L395.1,1152.7 L395.9,1150.8 L396.6,1148.9 L397.3,1147.0 L398.0,1145.1 L398.8,1143.3 L399.5,1141.4 L400.3,1139.6 L401.1,1137.8 L401.9,1135.9 L402.7,1134.1 L403.5,1132.3 L404.3,1130.5 L405.2,1128.8 L406.0,1127.0 L406.9,1125.2 L407.8,1123.5 L408.8,1121.8 L409.7,1120.1 L410.7,1118.4 L411.7,1116.7 L412.8,1115.0 L413.8,1113.3 L414.9,1111.7 L416.1,1110.0 L417.2,1108.4 L418.4,1106.8 L419.6,1105.2 L420.8,1103.6 L422.0,1102.1 L423.3,1100.5 L424.6,1099.0 L425.9,1097.4 L427.2,1095.9 L428.5,1094.4 L429.9,1092.9 L431.2,1091.4 L432.6,1089.9 L434.0,1088.5 L435.4,1087.0 L436.8,1085.5 L438.2,1084.1 L439.6,1082.6 L441.0,1081.2 L442.5,1079.8 L443.9,1078.4 L445.3,1077.0 L446.8,1075.6 L448.2,1074.2 L449.7,1072.8 L451.1,1071.4 L452.6,1070.0 L454.0,1068.6 L455.5,1067.3 L457.0,1065.9 L458.4,1064.5 L459.9,1063.2 L461.4,1061.8 L462.8,1060.5 L464.3,1059.1 L465.8,1057.8 L467.3,1056.4 L468.8,1055.1 L470.2,1053.8 L471.7,1052.4 L473.2,1051.1 L474.7,1049.7 L476.2,1048.4 L477.7,1047.1 L479.2,1045.7 L480.7,1044.4 L482.2,1043.0 L483.7,1041.7 L485.1,1040.3 L486.6,1039.0 L488.1,1037.7 L489.6,1036.3 L491.2,1035.0 L492.7,1033.7 L494.2,1032.4 L495.7,1031.1 L497.2,1029.8 L498.8,1028.5 L500.3,1027.2 L501.9,1026.0 L503.4,1024.7 L505.0,1023.5 L506.6,1022.3 L508.2,1021.1 L509.8,1019.9 L511.4,1018.7 L513.0,1017.6 L514.7,1016.5 L516.3,1015.4 L518.0,1014.3 L519.7,1013.3 L521.4,1012.3 L523.1,1011.3 L524.8,1010.4 L526.5,1009.4 L528.3,1008.5 L530.1,1007.7 L531.9,1006.9 L533.7,1006.1 L535.5,1005.3 L537.4,1004.6 L539.2,1003.9 L541.1,1003.3 L543.0,1002.7 L545.0,1002.1 L546.9,1001.6 L548.9,1001.1 L550.9,1000.7 L553.0,1000.3 L555.0,1000.0 L557.1,999.7' stroke='#dc0000'/>
<path d='M185.6,1102.3 L185.6,1104.6 L185.8,1106.8 L186.2,1108.8 L186.7,1110.8 L187.5,1112.6 L188.4,1114.2 L189.4,1115.8 L190.6,1117.3 L191.9,1118.6 L193.3,1119.9 L194.7,1121.1 L196.3,1122.2 L197.9,1123.1 L199.5,1124.1 L201.3,1124.9 L203.0,1125.7 L204.8,1126.3 L206.7,1127.0 L208.6,1127.5 L210.5,1128.1 L212.5,1128.5 L214.5,1128.9 L216.5,1129.3 L218.6,1129.6 L220.6,1129.9 L222.7,1130.2 L224.8,1130.5 L226.8,1130.7 L228.9,1130.9 L231.0,1131.1 L233.1,1131.3 L235.1,1131.5 L237.2,1131.7 L239.2,1131.8 L241.2,1132.0 L243.3,1132.2 L245.3,1132.3 L247.3,1132.5 L249.3,1132.7 L251.3,1132.8 L253.3,1133.0 L255.3,1133.2 L257.3,1133.3 L259.3,1133.5 L261.3,1133.7 L263.3,1133.8 L265.3,1134.0 L267.2,1134.2 L269.2,1134.4 L271.2,1134.6 L273.1,1134.8 L275.1,1135.0 L277.0,1135.2 L279.0,1135.4 L280.9,1135.7 L282.9,1135.9 L284.8,1136.2 L286.8,1136.5 L288.7,1136.8 L290.7,1137.0 L292.6,1137.4 L294.6,1137.7 L296.5,1138.0 L298.5,1138.4 L300.4,1138.8 L302.4,1139.2 L304.3,1139.6 L306.3,1140.0 L308.2,1140.5 L310.2,1140.9 L312.1,1141.4 L314.1,1141.9 L316.0,1142.5 L318.0,1143.0 L319.9,1143.6 L321.8,1144.2 L323.8,1144.9 L325.7,1145.5 L327.6,1146.2 L329.5,1146.9 L331.4,1147.7 L333.3,1148.4 L335.1,1149.3 L337.0,1150.1 L338.9,1150.9 L340.7,1151.8 L342.5,1152.8 L344.3,1153.7 L346.1,1154.7 L347.9,1155.8 L349.6,1156.8 L351.3,1158.0 L352.9,1159.1 L354.5,1160.3 L356.0,1161.6 L357.6,1162.9 L359.0,1164.2 L360.4,1165.6 L361.7,1167.0 L363.0,1168.5 L364.2,1170.0 L365.3,1171.6 L366.4,1173.2 L367.4,1174.9 L368.4,1176.6 L369.2,1178.4 L370.1,1180.1 L370.8,1182.0 L371.6,1183.8 L372.3,1185.7 L372.9,1187.6 L373.5,1189.5 L374.0,1191.5 L374.5,1193.4 L375.0,1195.4 L375.5,1197.3 L375.9,1199.3 L376.3,1201.3 L376.7,1203.3 L377.0,1205.2 L377.4,1207.2 L377.7,1209.2 L378.0,1211.2 L378.2,1213.2 L378.5,1215.2 L378.8,1217.1 L379.0,1219.1 L379.2,1221.1 L379.4,1223.1 L379.6,1225.1 L379.8,1227.1 L380.0,1229.1 L380.2,1231.1 L380.4,1233.1 L380.6,1235.1 L380.8,1237.1 L381.0,1239.1 L381.2,1241.1 L381.4,1243.1 L381.6,1245.1 L381.8,1247.1 L382.0,1249.1 L382.2,1251.1 L382.5,1253.1 L382.7,1255.1 L382.9,1257.1 L383.1,1259.1 L383.4,1261.1 L383.6,1263.1 L383.8,1265.1 L384.0,1267.2 L384.2,1269.2 L384.5,1271.2 L384.7,1273.2 L384.8,1275.1 L385.0,1277.1 L385.2,1279.1 L385.4,1281.1 L385.5,1283.1 L385.7,1285.1 L385.8,1287.1 L385.9,1289.1 L386.0,1291.1 L386.1,1293.1 L386.2,1295.1 L386.2,1297.0 L386.3,1299.0 L386.3,1301.0 L386.5,1299.0 L386.6,1297.0 L386.8,1295.0 L386.9,1293.0 L387.0,1291.1 L387.2,1289.1 L387.3,1287.1 L387.4,1285.1 L387.5,1283.1 L387.6,1281.1 L387.7,1279.1 L387.8,1277.1 L387.9,1275.1 L387.9,1273.1 L388.0,1271.0 L388.1,1269.0 L388.1,1267.0 L388.2,1265.0 L388.3,1263.0 L388.3,1261.0 L388.4,1259.0 L388.5,1257.0 L388.5,1255.0 L388.6,1253.0 L388.7,1251.0 L388.7,1249.0 L388.8,1247.0 L388.9,1244.9 L388.9,1242.9 L389.0,1240.9 L389.1,1238.9 L389.2,1236.9 L389.3,1234.9 L389.4,1232.9 L389.5,1230.9 L389.6,1228.9 L389.7,1226.9 L389.8,1224.9 L390.0,1222.9 L390.1,1220.9 L390.3,1218.9 L390.4,1216.9 L390.6,1214.9 L390.8,1212.9 L391.0,1210.9 L391.2,1208.9 L391.4,1206.9 L391.6,1204.9 L391.9,1203.0 L392.1,1201.0 L392.4,1199.0 L392.7,1197.0 L393.0,1195.0 L393.3,1193.1 L393.6,1191.1 L393.9,1189.1 L394.3,1187.1 L394.7,1185.2 L395.1,1183.2 L395.5,1181.2 L395.9,1179.3 L396.3,1177.3 L396.8,1175.4 L397.3,1173.4 L397.8,1171.5 L398.3,1169.6 L398.9,1167.6 L399.4,1165.7 L400.0,1163.8 L400.7,1161.9 L401.3,1160.0 L402.0,1158.1 L402.6,1156.2 L403.4,1154.3 L404.1,1152.5 L404.8,1150.6 L405.6,1148.8 L406.4,1147.0 L407.3,1145.2 L408.2,1143.4 L409.0,1141.6 L410.0,1139.8 L410.9,1138.1 L411.9,1136.3 L412.9,1134.6 L414.0,1132.9 L415.0,1131.2 L416.1,1129.6 L417.3,1127.9 L418.4,1126.3 L419.6,1124.7 L420.8,1123.1 L422.1,1121.6 L423.4,1120.0 L424.7,1118.5 L426.1,1117.0 L427.5,1115.6 L428.9,1114.1 L430.3,1112.7 L431.7,1111.2 L433.2,1109.8 L434.6,1108.4 L436.0,1106.9 L437.4,1105.5 L438.8,1104.0 L440.2,1102.6 L441.5,1101.1 L442.9,1099.6 L444.2,1098.1 L445.5,1096.6 L446.8,1095.1 L448.0,1093.6 L449.3,1092.0 L450.5,1090.5 L451.8,1089.0 L453.0,1087.4 L454.3,1085.9 L455.5,1084.3 L456.8,1082.7 L458.0,1081.2 L459.3,1079.6 L460.6,1078.0 L461.9,1076.5 L463.2,1074.9 L464.5,1073.4 L465.9,1071.8 L467.2,1070.3 L468.6,1068.7 L469.9,1067.2 L471.3,1065.7 L472.6,1064.2 L474.0,1062.7 L475.4,1061.2 L476.7,1059.7 L478.1,1058.2 L479.5,1056.8 L480.8,1055.4 L482.2,1053.9 L483.5,1052.5 L484.9,1051.2 L486.2,1049.8 L487.5,1048.4 L488.9,1047.0 L490.2,1045.5 L491.4,1044.1 L492.7,1042.6 L494.0,1041.0 L495.2,1039.4 L496.4,1037.8 L497.7,1036.2 L498.9,1034.6 L500.1,1032.9 L501.3,1031.2 L502.5,1029.5 L503.7,1027.8 L504.9,1026.1 L506.2,1024.5 L507.4,1022.8 L508.7,1021.1 L509.9,1019.5 L511.2,1017.9 L512.5,1016.4 L513.9,1014.9 L515.3,1013.4 L516.6,1012.0 L518.1,1010.6 L519.5,1009.3 L521.0,1008.0 L522.6,1006.9 L524.2,1005.8 L525.8,1004.7 L527.5,1003.8 L529.2,1003.0 L531.0,1002.2 L532.8,1001.5 L534.6,1001.0 L536.5,1000.5 L538.4,1000.1 L540.4,999.8 L542.3,999.7 L544.3,999.6 L546.3,999.6 L548.3,999.8 L550.3,1000.0 L552.4,1000.4 L554.4,1000.8 L556.5,1001.3 L558.5,1001.9 L569.4,999.1 L580.3,993.7 L595.9,983.8' stroke='#0000ff'/>
<path d='M174.7,1117.9 L175.0,1120.2 L175.5,1122.3 L176.2,1124.1 L177.2,1125.8 L178.3,1127.2 L179.6,1128.4 L181.1,1129.4 L182.7,1130.3 L184.4,1131.0 L186.2,1131.7 L188.1,1132.2 L190.1,1132.7 L192.0,1133.1 L194.0,1133.5 L196.0,1133.8 L198.0,1134.1 L200.0,1134.4 L202.0,1134.6 L204.1,1134.8 L206.1,1135.0 L208.1,1135.2 L210.1,1135.4 L212.2,1135.5 L214.2,1135.6 L216.2,1135.7 L218.3,1135.8 L220.3,1135.9 L222.3,1136.0 L224.4,1136.0 L226.4,1136.1 L228.5,1136.1 L230.5,1136.1 L232.5,1136.2 L234.6,1136.2 L236.6,1136.3 L238.6,1136.3 L240.6,1136.3 L242.7,1136.4 L244.7,1136.4 L246.7,1136.5 L248.7,1136.5 L250.7,1136.6 L252.7,1136.7 L254.7,1136.8 L256.7,1136.8 L258.7,1136.9 L260.7,1137.0 L262.6,1137.1 L264.6,1137.2 L266.6,1137.4 L268.6,1137.5 L270.6,1137.6 L272.6,1137.7 L274.5,1137.9 L276.5,1138.0 L278.5,1138.2 L280.5,1138.3 L282.5,1138.5 L284.4,1138.7 L286.4,1138.8 L288.4,1139.0 L290.4,1139.2 L292.4,1139.4 L294.4,1139.6 L296.3,1139.9 L298.3,1140.1 L300.3,1140.3 L302.3,1140.6 L304.3,1140.8 L306.3,1141.1 L308.3,1141.3 L310.3,1141.6 L312.3,1141.9 L314.4,1142.2 L316.4,1142.5 L318.4,1142.8 L320.4,1143.1 L322.4,1143.4 L324.5,1143.8 L326.5,1144.1 L328.5,1144.5 L330.5,1144.9 L332.5,1145.3 L334.4,1145.7 L336.4,1146.1 L338.4,1146.5 L340.3,1147.0 L342.2,1147.5 L344.1,1148.0 L346.0,1148.6 L347.9,1149.3 L349.8,1150.0 L351.6,1150.8 L353.4,1151.7 L355.2,1152.6 L356.9,1153.6 L358.6,1154.7 L360.2,1155.8 L361.8,1157.1 L363.3,1158.3 L364.8,1159.6 L366.2,1161.0 L367.6,1162.5 L368.9,1163.9 L370.1,1165.5 L371.3,1167.0 L372.4,1168.7 L373.4,1170.3 L374.4,1172.0 L375.4,1173.8 L376.3,1175.5 L377.1,1177.3 L377.9,1179.2 L378.7,1181.0 L379.4,1182.9 L380.0,1184.8 L380.7,1186.8 L381.3,1188.7 L381.8,1190.7 L382.3,1192.7 L382.8,1194.7 L383.2,1196.7 L383.6,1198.7 L384.0,1200.7 L384.4,1202.7 L384.7,1204.7 L385.0,1206.7 L385.3,1208.7 L385.5,1210.8 L385.8,1212.8 L386.0,1214.8 L386.2,1216.8 L386.4,1218.8 L386.5,1220.8 L386.7,1222.8 L386.8,1224.8 L387.0,1226.8 L387.1,1228.8 L387.2,1230.8 L387.4,1232.8 L387.5,1234.8 L387.6,1236.8 L387.8,1238.8 L387.9,1240.8 L388.0,1242.8 L388.2,1244.8 L388.4,1246.8 L388.5,1248.8 L388.7,1250.8 L388.9,1252.8 L389.0,1254.8 L389.2,1256.8 L389.4,1258.8 L389.6,1260.8 L389.7,1262.8 L389.9,1264.7 L390.1,1266.7 L390.2,1268.7 L390.4,1270.7 L390.5,1272.7 L390.7,1274.7 L390.8,1276.7 L391.0,1278.7 L391.1,1280.7 L391.2,1282.7 L391.4,1284.7 L391.5,1286.7 L391.6,1288.6 L391.7,1290.6 L391.8,1292.6 L392.0,1294.6 L392.1,1296.6 L392.2,1298.6 L392.3,1300.6 L392.4,1302.6 L392.4,1304.6 L392.5,1306.6 L392.6,1308.6 L392.7,1310.6 L392.8,1312.6 L392.8,1314.6 L392.9,1316.6 L393.0,1318.6 L393.0,1320.6 L393.1,1322.6 L393.1,1324.6 L393.1,1326.6 L393.2,1328.6 L393.2,1330.6 L393.2,1332.6 L393.3,1334.6 L393.3,1336.6 L393.3,1338.6 L393.3,1340.6 L393.3,1342.6 L393.3,1344.7 L393.3,1346.7 L393.3,1348.7 L393.3,1350.7 L393.2,1352.7 L393.2,1354.7 L393.2,1356.8 L393.1,1358.8 L393.1,1360.8 L393.0,1362.8 L393.0,1364.9 L392.9,1366.9 L392.9,1368.9 L392.8,1371.0 L392.7,1373.0 L392.7,1371.0 L392.7,1369.0 L392.6,1367.0 L392.6,1365.0 L392.6,1363.0 L392.6,1361.0 L392.6,1359.0 L392.6,1357.0 L392.6,1355.0 L392.6,1353.0 L392.7,1351.0 L392.7,1349.0 L392.7,1347.0 L392.7,1345.0 L392.7,1343.0 L392.8,1341.0 L392.8,1339.0 L392.8,1337.0 L392.9,1335.0 L392.9,1333.0 L392.9,1331.0 L393.0,1329.0 L393.0,1327.0 L393.1,1325.0 L393.1,1323.0 L393.2,1321.0 L393.2,1319.0 L393.3,1317.0 L393.3,1315.0 L393.4,1313.0 L393.5,1311.0 L393.5,1309.0 L393.6,1307.0 L393.7,1305.0 L393.7,1303.0 L393.8,1301.0 L393.9,1299.0 L394.0,1297.0 L394.0,1294.9 L394.1,1292.9 L394.2,1290.9 L394.3,1288.9 L394.4,1286.9 L394.4,1284.9 L394.5,1282.9 L394.6,1280.9 L394.7,1278.9 L394.8,1276.9 L394.9,1274.9 L395.0,1272.9 L395.1,1270.9 L395.1,1268.9 L395.2,1266.9 L395.3,1264.9 L395.4,1262.9 L395.5,1260.9 L395.6,1258.9 L395.7,1256.9 L395.8,1254.9 L395.9,1252.9 L396.0,1251.0 L396.1,1249.0 L396.2,1247.0 L396.3,1245.0 L396.5,1243.0 L396.6,1241.0 L396.7,1239.0 L396.8,1237.0 L397.0,1235.0 L397.1,1233.0 L397.3,1231.0 L397.4,1229.0 L397.6,1227.1 L397.8,1225.1 L398.0,1223.1 L398.2,1221.1 L398.4,1219.1 L398.6,1217.1 L398.9,1215.1 L399.1,1213.2 L399.4,1211.2 L399.7,1209.2 L399.9,1207.2 L400.3,1205.2 L400.6,1203.3 L400.9,1201.3 L401.3,1199.3 L401.6,1197.3 L402.0,1195.4 L402.4,1193.4 L402.8,1191.4 L403.2,1189.5 L403.7,1187.5 L404.2,1185.6 L404.6,1183.6 L405.1,1181.7 L405.6,1179.7 L406.2,1177.8 L406.7,1175.8 L407.3,1173.9 L407.9,1172.0 L408.5,1170.1 L409.1,1168.2 L409.7,1166.3 L410.4,1164.4 L411.0,1162.5 L411.7,1160.6 L412.4,1158.7 L413.1,1156.9 L413.9,1155.0 L414.6,1153.2 L415.4,1151.3 L416.2,1149.5 L417.0,1147.7 L417.9,1145.8 L418.7,1144.0 L419.6,1142.3 L420.5,1140.5 L421.4,1138.7 L422.3,1136.9 L423.3,1135.2 L424.3,1133.5 L425.3,1131.7 L426.3,1130.0 L427.3,1128.3 L428.4,1126.6 L429.5,1124.9 L430.6,1123.3 L431.7,1121.6 L432.8,1120.0 L434.0,1118.4 L435.1,1116.7 L436.3,1115.1 L437.5,1113.5 L438.7,1111.9 L439.9,1110.4 L441.2,1108.8 L442.4,1107.2 L443.7,1105.7 L445.0,1104.1 L446.2,1102.6 L447.5,1101.0 L448.8,1099.5 L450.1,1098.0 L451.5,1096.5 L452.8,1095.0 L454.1,1093.4 L455.4,1091.9 L456.8,1090.4 L458.1,1088.9 L459.5,1087.5 L460.8,1086.0 L462.1,1084.5 L463.5,1083.0 L464.8,1081.5 L466.2,1080.0 L467.5,1078.6 L468.9,1077.1 L470.2,1075.6 L471.6,1074.1 L472.9,1072.7 L474.3,1071.2 L475.6,1069.7 L477.0,1068.2 L478.4,1066.8 L479.7,1065.3 L481.1,1063.9 L482.4,1062.4 L483.8,1060.9 L485.2,1059.5 L486.5,1058.0 L487.9,1056.6 L489.3,1055.1 L490.7,1053.7 L492.0,1052.2 L493.4,1050.8 L494.8,1049.3 L496.2,1047.9 L497.6,1046.4 L499.0,1045.0 L500.4,1043.5 L501.8,1042.1 L503.2,1040.6 L504.7,1039.2 L506.1,1037.8 L507.5,1036.4 L509.0,1035.0 L510.4,1033.6 L511.9,1032.2 L513.4,1030.9 L514.9,1029.5 L516.4,1028.2 L517.9,1027.0 L519.4,1025.7 L521.0,1024.5 L522.6,1023.3 L524.2,1022.2 L525.8,1021.1 L527.4,1020.0 L529.1,1019.0 L530.8,1018.0 L532.5,1017.0 L534.2,1016.1 L536.0,1015.3 L537.7,1014.5 L539.6,1013.8 L541.4,1013.1 L543.3,1012.4 L545.2,1011.9 L547.1,1011.3 L549.0,1010.9 L551.0,1010.4 L553.0,1010.0 L555.0,1009.6 L557.0,1009.3 L559.0,1008.9 L561.0,1008.6 L563.0,1008.2 L565.1,1007.9 L567.1,1007.6 L569.1,1007.2 L571.1,1006.8 L573.1,1006.4 L575.0,1006.0 L577.0,1005.5 L578.9,1005.0 L580.8,1004.5 L582.7,1003.9 L584.5,1003.2' stroke='#326e6e'/>
<path d='M193.2,1072.5 L193.0,1074.8 L193.0,1076.9 L193.1,1079.1 L193.4,1081.1 L193.8,1083.1 L194.4,1085.0 L195.0,1086.9 L195.8,1088.6 L196.7,1090.3 L197.8,1091.9 L198.9,1093.4 L200.1,1094.9 L201.4,1096.2 L202.8,1097.5 L204.3,1098.6 L205.9,1099.7 L207.5,1100.8 L209.2,1101.7 L210.9,1102.6 L212.7,1103.4 L214.6,1104.2 L216.5,1104.9 L218.4,1105.6 L220.4,1106.2 L222.3,1106.8 L224.3,1107.4 L226.4,1107.9 L228.4,1108.4 L230.4,1108.9 L232.4,1109.4 L234.4,1109.8 L236.4,1110.3 L238.4,1110.7 L240.4,1111.1 L242.4,1111.5 L244.4,1111.9 L246.4,1112.3 L248.4,1112.6 L250.3,1113.0 L252.3,1113.3 L254.3,1113.7 L256.2,1114.0 L258.2,1114.4 L260.1,1114.7 L262.1,1115.0 L264.0,1115.3 L266.0,1115.7 L267.9,1116.0 L269.9,1116.3 L271.8,1116.6 L273.8,1117.0 L275.7,1117.3 L277.7,1117.6 L279.6,1118.0 L281.6,1118.3 L283.6,1118.7 L285.5,1119.0 L287.5,1119.4 L289.4,1119.7 L291.4,1120.1 L293.4,1120.5 L295.3,1120.9 L297.3,1121.3 L299.3,1121.7 L301.3,1122.2 L303.2,1122.6 L305.2,1123.1 L307.2,1123.6 L309.2,1124.1 L311.2,1124.6 L313.2,1125.1 L315.1,1125.7 L317.1,1126.3 L319.1,1126.9 L321.0,1127.5 L323.0,1128.1 L324.9,1128.8 L326.8,1129.5 L328.7,1130.2 L330.6,1130.9 L332.5,1131.7 L334.4,1132.5 L336.2,1133.3 L338.0,1134.2 L339.8,1135.1 L341.6,1136.0 L343.3,1136.9 L345.0,1137.9 L346.7,1139.0 L348.3,1140.0 L349.9,1141.2 L351.5,1142.3 L353.0,1143.5 L354.5,1144.8 L355.9,1146.2 L357.3,1147.6 L358.6,1149.0 L359.9,1150.5 L361.1,1152.1 L362.2,1153.7 L363.3,1155.3 L364.3,1157.0 L365.2,1158.7 L366.1,1160.5 L367.0,1162.3 L367.8,1164.1 L368.5,1166.0 L369.2,1167.9 L369.8,1169.8 L370.4,1171.7 L371.0,1173.7 L371.5,1175.6 L372.0,1177.6 L372.5,1179.6 L372.9,1181.6 L373.3,1183.6 L373.7,1185.6 L374.1,1187.6 L374.5,1189.7 L374.8,1191.7 L375.2,1193.7 L375.5,1195.7 L375.9,1197.7 L376.2,1199.7 L376.5,1201.7 L376.8,1203.7 L377.1,1205.7 L377.4,1207.7 L377.7,1209.7 L377.9,1211.7 L378.2,1213.7 L378.4,1215.7 L378.7,1217.7 L378.9,1219.7 L379.2,1221.6 L379.4,1223.6 L379.6,1225.6 L379.8,1227.6 L380.0,1229.6 L380.2,1231.6 L380.4,1233.5 L380.5,1235.5 L380.7,1237.5 L380.9,1239.5 L381.0,1241.5 L381.2,1243.5 L381.3,1245.4 L381.4,1247.4 L381.6,1249.4 L381.7,1251.4 L381.8,1253.4 L381.9,1255.4 L382.0,1257.3 L382.1,1259.3 L382.2,1261.3 L382.3,1263.3 L382.4,1265.3 L382.4,1267.3 L382.5,1269.3 L382.6,1271.3 L382.6,1273.3 L382.7,1275.3 L382.7,1277.3 L382.8,1279.3 L382.8,1281.3 L382.9,1283.3 L382.9,1285.3 L382.9,1287.3 L382.9,1289.3 L383.0,1291.3 L383.0,1293.4 L383.0,1295.4 L383.0,1297.4 L383.0,1299.4 L383.0,1301.5 L383.0,1303.5 L383.0,1305.6 L383.0,1307.6 L383.2,1305.6 L383.3,1303.6 L383.5,1301.6 L383.7,1299.6 L383.8,1297.6 L383.9,1295.6 L384.0,1293.6 L384.2,1291.6 L384.3,1289.6 L384.4,1287.6 L384.5,1285.6 L384.5,1283.6 L384.6,1281.6 L384.7,1279.6 L384.8,1277.6 L384.8,1275.6 L384.9,1273.6 L385.0,1271.6 L385.0,1269.6 L385.1,1267.6 L385.1,1265.6 L385.2,1263.6 L385.2,1261.6 L385.3,1259.6 L385.3,1257.5 L385.4,1255.5 L385.5,1253.5 L385.5,1251.5 L385.6,1249.5 L385.6,1247.5 L385.7,1245.5 L385.7,1243.5 L385.8,1241.5 L385.9,1239.5 L386.0,1237.5 L386.0,1235.5 L386.1,1233.5 L386.2,1231.5 L386.3,1229.5 L386.4,1227.5 L386.5,1225.5 L386.6,1223.5 L386.8,1221.5 L386.9,1219.5 L387.0,1217.5 L387.2,1215.5 L387.4,1213.5 L387.5,1211.5 L387.7,1209.5 L387.9,1207.5 L388.1,1205.5 L388.3,1203.5 L388.6,1201.5 L388.8,1199.5 L389.1,1197.5 L389.3,1195.6 L389.6,1193.6 L389.9,1191.6 L390.2,1189.6 L390.6,1187.6 L390.9,1185.7 L391.3,1183.7 L391.6,1181.7 L392.0,1179.8 L392.5,1177.8 L392.9,1175.8 L393.3,1173.9 L393.8,1171.9 L394.3,1170.0 L394.8,1168.0 L395.4,1166.1 L396.0,1164.2 L396.6,1162.2 L397.2,1160.3 L397.9,1158.5 L398.5,1156.6 L399.3,1154.7 L400.0,1152.9 L400.8,1151.1 L401.6,1149.2 L402.5,1147.5 L403.4,1145.7 L404.4,1143.9 L405.4,1142.2 L406.4,1140.5 L407.5,1138.8 L408.6,1137.2 L409.8,1135.6 L411.0,1134.0 L412.2,1132.4 L413.5,1130.8 L414.8,1129.3 L416.2,1127.8 L417.5,1126.3 L418.9,1124.8 L420.3,1123.3 L421.7,1121.9 L423.1,1120.4 L424.4,1118.9 L425.8,1117.5 L427.2,1116.0 L428.6,1114.5 L429.9,1113.1 L431.3,1111.6 L432.6,1110.1 L433.9,1108.6 L435.2,1107.1 L436.5,1105.5 L437.8,1104.0 L439.1,1102.5 L440.4,1100.9 L441.6,1099.4 L442.9,1097.8 L444.2,1096.3 L445.4,1094.7 L446.7,1093.2 L447.9,1091.6 L449.2,1090.1 L450.5,1088.5 L451.7,1087.0 L453.0,1085.4 L454.3,1083.9 L455.6,1082.3 L456.9,1080.8 L458.2,1079.3 L459.5,1077.8 L460.8,1076.3 L462.1,1074.8 L463.5,1073.3 L464.9,1071.9 L466.2,1070.4 L467.6,1069.0 L469.0,1067.6 L470.5,1066.2 L471.9,1064.8 L473.4,1063.4 L474.8,1062.0 L476.3,1060.7 L477.8,1059.4 L479.3,1058.0 L480.9,1056.7 L482.4,1055.4 L483.9,1054.1 L485.5,1052.8 L487.0,1051.6 L488.6,1050.3 L490.1,1049.0 L491.7,1047.7 L493.3,1046.5 L494.8,1045.2 L496.4,1044.0 L497.9,1042.7 L499.5,1041.4 L501.0,1040.2 L502.6,1038.9 L504.1,1037.6 L505.7,1036.4 L507.2,1035.1 L508.8,1033.8 L510.3,1032.6 L511.9,1031.4 L513.5,1030.2 L515.0,1029.0 L516.6,1027.8 L518.3,1026.7 L519.9,1025.6 L521.5,1024.5 L523.2,1023.4 L524.9,1022.4 L526.6,1021.4 L528.4,1020.4 L530.2,1019.5 L532.0,1018.6 L533.8,1017.8 L535.6,1016.9 L537.4,1016.0 L539.3,1015.2 L541.1,1014.3 L542.9,1013.4 L544.7,1012.5 L546.5,1011.6 L548.2,1010.6 L550.0,1009.7 L551.7,1008.7 L553.5,1007.7 L555.2,1006.7 L557.0,1005.7 L558.7,1004.7 L560.5,1003.8 L562.2,1002.8 L564.0,1001.8 L565.7,1000.9 L567.5,999.9 L569.3,999.0 L571.1,998.1 L572.9,997.3 L574.7,996.5 L576.5,995.7 L578.4,994.9 L580.3,994.2' stroke='#5a00f0'/>
<path d='M203.1,1137.2 L202.6,1139.5 L202.4,1141.7 L202.5,1143.9 L202.8,1145.9 L203.3,1147.8 L204.0,1149.6 L204.9,1151.3 L205.9,1152.9 L207.2,1154.4 L208.5,1155.8 L210.0,1157.2 L211.6,1158.4 L213.3,1159.6 L215.1,1160.7 L216.9,1161.7 L218.7,1162.6 L220.5,1163.4 L222.4,1164.2 L224.2,1164.9 L226.1,1165.6 L228.0,1166.2 L229.9,1166.7 L231.8,1167.2 L233.7,1167.6 L235.6,1168.0 L237.5,1168.3 L239.4,1168.6 L241.4,1168.8 L243.3,1169.1 L245.3,1169.2 L247.2,1169.4 L249.2,1169.5 L251.2,1169.7 L253.1,1169.8 L255.1,1169.8 L257.1,1169.9 L259.1,1170.0 L261.1,1170.0 L263.1,1170.1 L265.1,1170.1 L267.2,1170.2 L269.2,1170.2 L271.2,1170.2 L273.2,1170.3 L275.3,1170.3 L277.3,1170.4 L279.4,1170.4 L281.4,1170.5 L283.5,1170.5 L285.5,1170.6 L287.6,1170.7 L289.6,1170.8 L291.7,1170.9 L293.7,1171.0 L295.8,1171.2 L297.8,1171.3 L299.9,1171.5 L301.9,1171.7 L303.9,1172.0 L305.9,1172.2 L308.0,1172.5 L310.0,1172.8 L312.0,1173.1 L313.9,1173.5 L315.9,1173.9 L317.9,1174.3 L319.8,1174.8 L321.8,1175.3 L323.7,1175.8 L325.6,1176.4 L327.5,1177.0 L329.4,1177.6 L331.2,1178.3 L333.1,1179.1 L334.9,1179.9 L336.7,1180.7 L338.4,1181.5 L340.2,1182.4 L341.9,1183.4 L343.6,1184.4 L345.3,1185.4 L347.0,1186.5 L348.6,1187.6 L350.2,1188.8 L351.7,1190.0 L353.3,1191.3 L354.8,1192.6 L356.3,1193.9 L357.7,1195.3 L359.1,1196.7 L360.5,1198.2 L361.8,1199.7 L363.1,1201.2 L364.4,1202.8 L365.6,1204.4 L366.7,1206.1 L367.8,1207.8 L368.9,1209.5 L369.9,1211.2 L370.8,1213.0 L371.7,1214.7 L372.6,1216.6 L373.4,1218.4 L374.1,1220.2 L374.8,1222.1 L375.4,1224.0 L376.0,1225.9 L376.5,1227.9 L377.0,1229.8 L377.5,1231.8 L377.9,1233.7 L378.3,1235.7 L378.7,1237.7 L379.0,1239.7 L379.3,1241.7 L379.6,1243.8 L379.9,1245.8 L380.1,1247.8 L380.4,1249.8 L380.6,1251.9 L380.8,1253.9 L381.1,1255.9 L381.3,1257.9 L381.5,1260.0 L381.7,1262.0 L381.9,1264.0 L382.1,1266.0 L382.3,1268.0 L382.5,1270.0 L382.6,1272.0 L382.8,1274.0 L383.0,1276.0 L383.2,1278.0 L383.3,1280.0 L383.5,1282.0 L383.7,1284.0 L383.8,1286.0 L384.0,1288.0 L384.1,1290.0 L384.3,1292.0 L384.4,1294.0 L384.5,1296.0 L384.7,1298.0 L384.8,1299.9 L384.9,1301.9 L385.1,1303.9 L385.2,1305.9 L385.3,1307.9 L385.4,1309.9 L385.5,1311.9 L385.6,1313.8 L385.7,1315.8 L385.8,1317.8 L385.9,1319.8 L385.9,1321.8 L386.0,1323.8 L386.1,1325.7 L386.2,1327.7 L386.2,1329.7 L386.3,1331.7 L386.4,1333.7 L386.4,1335.7 L386.5,1337.7 L386.5,1339.7 L386.6,1341.7 L386.6,1343.7 L386.6,1345.7 L386.7,1347.7 L386.7,1349.7 L386.7,1351.7 L386.7,1353.7 L386.8,1355.7 L386.8,1357.7 L386.8,1359.7 L386.8,1361.7 L386.8,1363.7 L386.8,1365.7 L386.8,1367.8 L386.8,1369.8 L386.7,1371.8 L386.7,1373.8 L386.7,1375.9 L386.7,1377.9 L386.6,1380.0 L386.6,1382.0 L386.6,1380.0 L386.5,1378.0 L386.5,1376.0 L386.5,1374.1 L386.4,1372.1 L386.4,1370.1 L386.4,1368.1 L386.4,1366.1 L386.4,1364.1 L386.4,1362.1 L386.4,1360.1 L386.5,1358.1 L386.5,1356.1 L386.5,1354.1 L386.5,1352.1 L386.6,1350.1 L386.6,1348.1 L386.6,1346.1 L386.7,1344.1 L386.7,1342.1 L386.8,1340.1 L386.9,1338.1 L386.9,1336.1 L387.0,1334.1 L387.1,1332.1 L387.1,1330.1 L387.2,1328.1 L387.3,1326.1 L387.4,1324.1 L387.5,1322.1 L387.6,1320.1 L387.7,1318.1 L387.8,1316.0 L387.9,1314.0 L388.0,1312.0 L388.1,1310.0 L388.2,1308.0 L388.3,1306.0 L388.4,1304.0 L388.6,1302.0 L388.7,1300.0 L388.8,1298.0 L388.9,1296.0 L389.1,1294.0 L389.2,1292.0 L389.3,1290.0 L389.5,1288.0 L389.6,1286.0 L389.7,1284.0 L389.9,1281.9 L390.0,1279.9 L390.2,1277.9 L390.3,1275.9 L390.5,1273.9 L390.6,1272.0 L390.8,1270.0 L390.9,1268.0 L391.1,1266.0 L391.2,1264.0 L391.4,1262.0 L391.5,1260.0 L391.7,1258.0 L391.8,1256.0 L392.0,1254.0 L392.2,1252.0 L392.4,1250.0 L392.6,1248.1 L392.7,1246.1 L392.9,1244.1 L393.2,1242.1 L393.4,1240.1 L393.6,1238.2 L393.8,1236.2 L394.1,1234.2 L394.4,1232.3 L394.6,1230.3 L394.9,1228.3 L395.2,1226.4 L395.6,1224.4 L395.9,1222.4 L396.2,1220.5 L396.6,1218.5 L397.0,1216.6 L397.4,1214.6 L397.8,1212.7 L398.3,1210.7 L398.7,1208.8 L399.2,1206.8 L399.7,1204.9 L400.3,1203.0 L400.8,1201.0 L401.4,1199.1 L402.0,1197.2 L402.6,1195.2 L403.2,1193.3 L403.8,1191.4 L404.5,1189.5 L405.1,1187.6 L405.8,1185.7 L406.5,1183.8 L407.2,1181.9 L407.9,1180.0 L408.6,1178.2 L409.3,1176.3 L410.0,1174.4 L410.7,1172.6 L411.5,1170.8 L412.2,1168.9 L413.0,1167.1 L413.7,1165.3 L414.5,1163.5 L415.4,1161.7 L416.2,1159.9 L417.1,1158.1 L418.0,1156.4 L419.0,1154.6 L420.0,1152.9 L421.0,1151.1 L422.1,1149.4 L423.1,1147.7 L424.2,1146.0 L425.4,1144.3 L426.5,1142.7 L427.7,1141.0 L428.9,1139.4 L430.1,1137.7 L431.3,1136.1 L432.6,1134.5 L433.8,1133.0 L435.1,1131.4 L436.4,1129.8 L437.7,1128.3 L439.0,1126.8 L440.4,1125.3 L441.7,1123.8 L443.0,1122.3 L444.4,1120.9 L445.7,1119.4 L447.1,1118.0 L448.4,1116.6 L449.8,1115.2 L451.2,1113.7 L452.6,1112.3 L454.0,1110.9 L455.3,1109.5 L456.7,1108.2 L458.1,1106.8 L459.5,1105.4 L460.9,1104.0 L462.3,1102.5 L463.8,1101.1 L465.2,1099.7 L466.6,1098.3 L468.0,1096.9 L469.4,1095.4 L470.8,1094.0 L472.2,1092.6 L473.7,1091.1 L475.1,1089.7 L476.5,1088.2 L477.9,1086.8 L479.3,1085.3 L480.7,1083.9 L482.2,1082.4 L483.6,1081.0 L485.0,1079.6 L486.4,1078.1 L487.8,1076.7 L489.2,1075.2 L490.6,1073.8 L492.0,1072.4 L493.4,1071.0 L494.8,1069.6 L496.2,1068.2 L497.7,1066.8 L499.1,1065.4 L500.5,1064.0 L502.0,1062.6 L503.4,1061.3 L504.9,1059.9 L506.3,1058.6 L507.8,1057.2 L509.3,1055.9 L510.8,1054.6 L512.3,1053.3 L513.8,1052.1 L515.3,1050.8 L516.9,1049.6 L518.4,1048.3 L520.0,1047.1 L521.6,1046.0 L523.2,1044.8 L524.8,1043.6 L526.5,1042.5 L528.1,1041.4 L529.8,1040.3 L531.5,1039.2 L533.3,1038.1 L535.0,1037.1 L536.7,1036.0 L538.5,1034.9 L540.3,1033.9 L542.1,1033.0 L544.0,1032.2 L545.8,1031.5 L547.7,1031.0 L549.5,1030.7 L551.4,1030.4 L553.3,1030.2 L555.2,1030.0 L557.2,1029.8 L559.1,1029.6 L561.1,1029.3 L563.1,1028.9 L565.0,1028.4 L567.0,1027.9 L569.0,1027.4 L571.0,1026.9 L573.0,1026.4 L575.0,1025.9 L576.9,1025.5 L578.9,1025.1 L580.9,1024.7 L582.8,1024.5 L584.7,1024.1 L586.6,1023.3' stroke='#d6006e'/>
</g>
<rect x='95.0' y='979.9' width='542.2' height='398.9' fill='none' stroke='#000' stroke-width='1.8'/>
<text x='85.6' y='1071.8' font-size='16' text-anchor='end'>1E-4</text>
<text x='85.6' y='1170.7' font-size='16' text-anchor='end'>1E-5</text>
<text x='85.6' y='1269.5' font-size='16' text-anchor='end'>1E-6</text>
<text x='85.6' y='1368.4' font-size='16' text-anchor='end'>1E-7</text>
<text x='120.9' y='1399.6' font-size='16' text-anchor='middle'>-0.95</text>
<text x='172.5' y='1399.6' font-size='16' text-anchor='middle'>-0.90</text>
<text x='224.2' y='1399.6' font-size='16' text-anchor='middle'>-0.85</text>
<text x='275.8' y='1399.6' font-size='16' text-anchor='middle'>-0.80</text>
<text x='327.4' y='1399.6' font-size='16' text-anchor='middle'>-0.75</text>
<text x='379.1' y='1399.6' font-size='16' text-anchor='middle'>-0.70</text>
<text x='430.7' y='1399.6' font-size='16' text-anchor='middle'>-0.65</text>
<text x='482.3' y='1399.6' font-size='16' text-anchor='middle'>-0.60</text>
<text x='533.9' y='1399.6' font-size='16' text-anchor='middle'>-0.55</text>
<text x='585.6' y='1399.6' font-size='16' text-anchor='middle'>-0.50</text>
<text x='637.2' y='1399.6' font-size='16' text-anchor='middle'>-0.45</text>
<text x='274.9' y='1431.0' font-size='19.5' text-anchor='start'>Potential (V vs. SCE)</text>
<text transform='translate(22.6,1285.0) rotate(-90)' font-size='19.5'>Current density (Acm<tspan font-size='12' dy='-10.5'>-2</tspan><tspan dy='10.5'>)</tspan></text>
<text x='116.5' y='1021.6' font-size='19.5' text-anchor='start'>Fe85 alloys</text>
<text x='0.8' y='1429.4' font-size='27' text-anchor='start' font-weight='bold'>(c)</text>
<rect x='457.6' y='1187.3' width='121.5' height='148.7' fill='#fff' stroke='#6a6a6a' stroke-width='1.2'/>
<path d='M464.4,1205.6H509.6' stroke='#000000' stroke-width='2.1'/>
<text x='513.9' y='1212.4' font-size='19' text-anchor='start'>Fe85-1</text>
<path d='M464.4,1229.4H509.6' stroke='#dc0000' stroke-width='2.1'/>
<text x='513.9' y='1236.2' font-size='19' text-anchor='start'>Fe85-2</text>
<path d='M464.4,1253.2H509.6' stroke='#0000ff' stroke-width='2.1'/>
<text x='513.9' y='1260.0' font-size='19' text-anchor='start'>Fe85-3</text>
<path d='M464.4,1277.0H509.6' stroke='#326e6e' stroke-width='2.1'/>
<text x='513.9' y='1283.8' font-size='19' text-anchor='start'>Fe85-4</text>
<path d='M464.4,1300.8H509.6' stroke='#5a00f0' stroke-width='2.1'/>
<text x='513.9' y='1307.6' font-size='19' text-anchor='start'>Fe85-5</text>
<path d='M464.4,1324.6H509.6' stroke='#d6006e' stroke-width='2.1'/>
<text x='513.9' y='1331.4' font-size='19' text-anchor='start'>Fe85-6</text>
</svg>
</body></html>
